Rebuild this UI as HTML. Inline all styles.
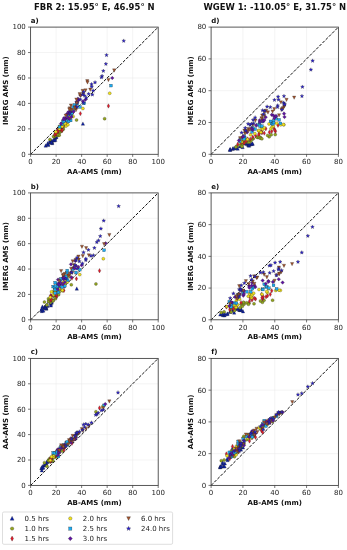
<!DOCTYPE html>
<html lang="en"><head><meta charset="utf-8"><title>AMS scatter comparison</title>
<style>html,body{margin:0;padding:0;background:#fff}svg{display:block}</style></head>
<body>
<svg width="347" height="550" viewBox="0 0 347 550" font-family="'DejaVu Sans','Liberation Sans',sans-serif">
<rect width="347" height="550" fill="#fff"/>
<g id="panel-a">
<path d="M56.12 27.10V154.30M30.60 128.86H158.20M81.64 27.10V154.30M30.60 103.42H158.20M107.16 27.10V154.30M30.60 77.98H158.20M132.68 27.10V154.30M30.60 52.54H158.20" stroke="#e9e9e9" stroke-width="0.5" fill="none"/>
<path d="M30.60 154.30L158.20 27.10" stroke="#000" stroke-width="0.95" stroke-dasharray="3 1.5" fill="none"/>
<g stroke="#222" stroke-width="0.27" stroke-linejoin="miter">
<polygon points="43.96,147.16 47.36,147.16 45.66,143.76" fill="#0b1fa8"/>
<polygon points="46.23,146.03 49.63,146.03 47.93,142.63" fill="#0b1fa8"/>
<polygon points="48.94,143.58 52.34,143.58 50.64,140.18" fill="#0b1fa8"/>
<polygon points="45.98,144.95 49.38,144.95 47.68,141.55" fill="#0b1fa8"/>
<polygon points="47.99,142.74 51.39,142.74 49.69,139.34" fill="#0b1fa8"/>
<polygon points="46.57,146.62 49.97,146.62 48.27,143.22" fill="#0b1fa8"/>
<polygon points="50.59,144.74 53.99,144.74 52.29,141.34" fill="#0b1fa8"/>
<polygon points="49.24,143.83 52.64,143.83 50.94,140.43" fill="#0b1fa8"/>
<polygon points="49.49,144.18 52.89,144.18 51.19,140.78" fill="#0b1fa8"/>
<polygon points="50.28,143.55 53.68,143.55 51.98,140.15" fill="#0b1fa8"/>
<polygon points="50.33,142.19 53.73,142.19 52.03,138.79" fill="#0b1fa8"/>
<polygon points="49.79,143.86 53.19,143.86 51.49,140.46" fill="#0b1fa8"/>
<polygon points="52.56,142.09 55.96,142.09 54.26,138.69" fill="#0b1fa8"/>
<polygon points="53.28,139.91 56.68,139.91 54.98,136.51" fill="#0b1fa8"/>
<polygon points="52.32,141.37 55.72,141.37 54.02,137.97" fill="#0b1fa8"/>
<polygon points="54.18,138.78 57.58,138.78 55.88,135.38" fill="#0b1fa8"/>
<polygon points="53.89,138.8 57.29,138.8 55.59,135.4" fill="#0b1fa8"/>
<polygon points="53.65,141.55 57.05,141.55 55.35,138.15" fill="#0b1fa8"/>
<polygon points="54.75,138.47 58.15,138.47 56.45,135.07" fill="#0b1fa8"/>
<polygon points="81.22,125.3 84.62,125.3 82.92,121.9" fill="#0b1fa8"/>
<circle cx="49.96" cy="139.49" r="1.5" fill="#94a51e"/>
<circle cx="54.26" cy="136.85" r="1.5" fill="#94a51e"/>
<circle cx="53.48" cy="136.46" r="1.5" fill="#94a51e"/>
<circle cx="56.29" cy="135.4" r="1.5" fill="#94a51e"/>
<circle cx="55.53" cy="133.18" r="1.5" fill="#94a51e"/>
<circle cx="55.34" cy="135.81" r="1.5" fill="#94a51e"/>
<circle cx="59" cy="133.29" r="1.5" fill="#94a51e"/>
<circle cx="55.26" cy="134.41" r="1.5" fill="#94a51e"/>
<circle cx="58.22" cy="135.4" r="1.5" fill="#94a51e"/>
<circle cx="59.23" cy="135.17" r="1.5" fill="#94a51e"/>
<circle cx="61.93" cy="130.25" r="1.5" fill="#94a51e"/>
<circle cx="57.52" cy="134.28" r="1.5" fill="#94a51e"/>
<circle cx="61.09" cy="131.51" r="1.5" fill="#94a51e"/>
<circle cx="60.04" cy="129.54" r="1.5" fill="#94a51e"/>
<circle cx="62.57" cy="128.28" r="1.5" fill="#94a51e"/>
<circle cx="63.43" cy="126.79" r="1.5" fill="#94a51e"/>
<circle cx="65.08" cy="125.16" r="1.5" fill="#94a51e"/>
<circle cx="63.27" cy="129.18" r="1.5" fill="#94a51e"/>
<circle cx="66.98" cy="124.19" r="1.5" fill="#94a51e"/>
<circle cx="104.61" cy="118.68" r="1.5" fill="#94a51e"/>
<circle cx="76.54" cy="119.96" r="1.5" fill="#94a51e"/>
<polygon points="54.85,132.58 56.1,134.78 54.85,136.98 53.6,134.78" fill="#e01a2a"/>
<polygon points="56.05,131.54 57.3,133.74 56.05,135.94 54.8,133.74" fill="#e01a2a"/>
<polygon points="57.22,128.28 58.47,130.48 57.22,132.68 55.97,130.48" fill="#e01a2a"/>
<polygon points="58.21,128.74 59.46,130.94 58.21,133.14 56.96,130.94" fill="#e01a2a"/>
<polygon points="57.96,127.91 59.21,130.11 57.96,132.31 56.71,130.11" fill="#e01a2a"/>
<polygon points="57.69,129.37 58.94,131.57 57.69,133.77 56.44,131.57" fill="#e01a2a"/>
<polygon points="60.35,127.15 61.6,129.35 60.35,131.55 59.1,129.35" fill="#e01a2a"/>
<polygon points="61.08,125.26 62.33,127.46 61.08,129.66 59.83,127.46" fill="#e01a2a"/>
<polygon points="61.94,128.47 63.19,130.67 61.94,132.87 60.69,130.67" fill="#e01a2a"/>
<polygon points="62.31,127.35 63.56,129.55 62.31,131.75 61.06,129.55" fill="#e01a2a"/>
<polygon points="62.84,124 64.09,126.2 62.84,128.4 61.59,126.2" fill="#e01a2a"/>
<polygon points="62.5,124.43 63.75,126.63 62.5,128.83 61.25,126.63" fill="#e01a2a"/>
<polygon points="65.29,122.15 66.54,124.35 65.29,126.55 64.04,124.35" fill="#e01a2a"/>
<polygon points="69.08,115.04 70.33,117.24 69.08,119.44 67.83,117.24" fill="#e01a2a"/>
<polygon points="68.82,118.56 70.07,120.76 68.82,122.96 67.57,120.76" fill="#e01a2a"/>
<polygon points="66.18,119.63 67.43,121.83 66.18,124.03 64.93,121.83" fill="#e01a2a"/>
<polygon points="72.86,110.3 74.11,112.5 72.86,114.7 71.61,112.5" fill="#e01a2a"/>
<polygon points="66.13,122.71 67.38,124.91 66.13,127.11 64.88,124.91" fill="#e01a2a"/>
<polygon points="69.5,115.09 70.75,117.29 69.5,119.49 68.25,117.29" fill="#e01a2a"/>
<polygon points="108.44,103.76 109.69,105.96 108.44,108.16 107.19,105.96" fill="#e01a2a"/>
<polygon points="80.36,111.4 81.61,113.6 80.36,115.8 79.11,113.6" fill="#e01a2a"/>
<circle cx="55.85" cy="131.7" r="1.5" fill="#f2e21a"/>
<circle cx="59.45" cy="128.85" r="1.5" fill="#f2e21a"/>
<circle cx="61.09" cy="126.23" r="1.5" fill="#f2e21a"/>
<circle cx="62.64" cy="124.95" r="1.5" fill="#f2e21a"/>
<circle cx="59.38" cy="126.21" r="1.5" fill="#f2e21a"/>
<circle cx="62.12" cy="126.48" r="1.5" fill="#f2e21a"/>
<circle cx="65.35" cy="123.39" r="1.5" fill="#f2e21a"/>
<circle cx="63.03" cy="123.74" r="1.5" fill="#f2e21a"/>
<circle cx="66.03" cy="125.97" r="1.5" fill="#f2e21a"/>
<circle cx="67.93" cy="124.69" r="1.5" fill="#f2e21a"/>
<circle cx="68.16" cy="117.72" r="1.5" fill="#f2e21a"/>
<circle cx="65.05" cy="123.49" r="1.5" fill="#f2e21a"/>
<circle cx="70.12" cy="118.54" r="1.5" fill="#f2e21a"/>
<circle cx="70.66" cy="112.25" r="1.5" fill="#f2e21a"/>
<circle cx="69.13" cy="116.73" r="1.5" fill="#f2e21a"/>
<circle cx="71.71" cy="113.34" r="1.5" fill="#f2e21a"/>
<circle cx="73.48" cy="110.7" r="1.5" fill="#f2e21a"/>
<circle cx="73.14" cy="116.48" r="1.5" fill="#f2e21a"/>
<circle cx="70.73" cy="113.28" r="1.5" fill="#f2e21a"/>
<circle cx="109.71" cy="93.24" r="1.5" fill="#f2e21a"/>
<circle cx="82.92" cy="108.51" r="1.5" fill="#f2e21a"/>
<rect x="58.15" y="125.42" width="2.8" height="2.8" fill="#1eaaf0"/>
<rect x="60.38" y="122.66" width="2.8" height="2.8" fill="#1eaaf0"/>
<rect x="61.97" y="119.58" width="2.8" height="2.8" fill="#1eaaf0"/>
<rect x="61.61" y="120.67" width="2.8" height="2.8" fill="#1eaaf0"/>
<rect x="63.52" y="117.17" width="2.8" height="2.8" fill="#1eaaf0"/>
<rect x="62.57" y="119.89" width="2.8" height="2.8" fill="#1eaaf0"/>
<rect x="65.33" y="119.07" width="2.8" height="2.8" fill="#1eaaf0"/>
<rect x="66.69" y="113.15" width="2.8" height="2.8" fill="#1eaaf0"/>
<rect x="69.25" y="119.08" width="2.8" height="2.8" fill="#1eaaf0"/>
<rect x="67.22" y="120.04" width="2.8" height="2.8" fill="#1eaaf0"/>
<rect x="67.81" y="111.79" width="2.8" height="2.8" fill="#1eaaf0"/>
<rect x="69.77" y="113.2" width="2.8" height="2.8" fill="#1eaaf0"/>
<rect x="70.42" y="111.52" width="2.8" height="2.8" fill="#1eaaf0"/>
<rect x="69.94" y="109.38" width="2.8" height="2.8" fill="#1eaaf0"/>
<rect x="71.8" y="109.49" width="2.8" height="2.8" fill="#1eaaf0"/>
<rect x="71.85" y="105.72" width="2.8" height="2.8" fill="#1eaaf0"/>
<rect x="72.99" y="103.54" width="2.8" height="2.8" fill="#1eaaf0"/>
<rect x="78.52" y="105.56" width="2.8" height="2.8" fill="#1eaaf0"/>
<rect x="75.78" y="102.21" width="2.8" height="2.8" fill="#1eaaf0"/>
<rect x="109.59" y="84.21" width="2.8" height="2.8" fill="#1eaaf0"/>
<rect x="82.79" y="102.02" width="2.8" height="2.8" fill="#1eaaf0"/>
<polygon points="61.01,121.85 62.81,123.65 61.01,125.45 59.21,123.65" fill="#5e14a0"/>
<polygon points="65.36,117.35 67.16,119.15 65.36,120.95 63.56,119.15" fill="#5e14a0"/>
<polygon points="64.09,116.19 65.89,117.99 64.09,119.79 62.29,117.99" fill="#5e14a0"/>
<polygon points="63.62,117.57 65.42,119.37 63.62,121.17 61.82,119.37" fill="#5e14a0"/>
<polygon points="66.88,112.23 68.68,114.03 66.88,115.83 65.08,114.03" fill="#5e14a0"/>
<polygon points="68.77,111.7 70.57,113.5 68.77,115.3 66.97,113.5" fill="#5e14a0"/>
<polygon points="67.46,115.32 69.26,117.12 67.46,118.92 65.66,117.12" fill="#5e14a0"/>
<polygon points="68.42,110.22 70.22,112.02 68.42,113.82 66.62,112.02" fill="#5e14a0"/>
<polygon points="71.53,115.05 73.33,116.85 71.53,118.65 69.73,116.85" fill="#5e14a0"/>
<polygon points="69.31,116.83 71.11,118.63 69.31,120.43 67.51,118.63" fill="#5e14a0"/>
<polygon points="70.3,110.26 72.1,112.06 70.3,113.86 68.5,112.06" fill="#5e14a0"/>
<polygon points="73.61,109.8 75.41,111.6 73.61,113.4 71.81,111.6" fill="#5e14a0"/>
<polygon points="75.9,104.93 77.7,106.73 75.9,108.53 74.1,106.73" fill="#5e14a0"/>
<polygon points="76.63,100.04 78.43,101.84 76.63,103.64 74.83,101.84" fill="#5e14a0"/>
<polygon points="77.11,101.01 78.91,102.81 77.11,104.61 75.31,102.81" fill="#5e14a0"/>
<polygon points="78.56,98.32 80.36,100.12 78.56,101.92 76.76,100.12" fill="#5e14a0"/>
<polygon points="80.57,93.55 82.37,95.35 80.57,97.15 78.77,95.35" fill="#5e14a0"/>
<polygon points="83.02,99.55 84.82,101.35 83.02,103.15 81.22,101.35" fill="#5e14a0"/>
<polygon points="78,96.9 79.8,98.7 78,100.5 76.2,98.7" fill="#5e14a0"/>
<polygon points="112.26,76.18 114.06,77.98 112.26,79.78 110.46,77.98" fill="#5e14a0"/>
<polygon points="85.47,97.8 87.27,99.6 85.47,101.4 83.67,99.6" fill="#5e14a0"/>
<polygon points="64.02,114 67.32,114 65.67,117.3" fill="#a0522d"/>
<polygon points="70.21,108.29 73.51,108.29 71.86,111.59" fill="#a0522d"/>
<polygon points="68.18,106.75 71.48,106.75 69.83,110.05" fill="#a0522d"/>
<polygon points="68.43,108.25 71.73,108.25 70.08,111.55" fill="#a0522d"/>
<polygon points="69.27,103.9 72.57,103.9 70.92,107.2" fill="#a0522d"/>
<polygon points="67.62,107.73 70.92,107.73 69.27,111.03" fill="#a0522d"/>
<polygon points="73.44,105.69 76.74,105.69 75.09,108.99" fill="#a0522d"/>
<polygon points="74.73,97.93 78.03,97.93 76.38,101.23" fill="#a0522d"/>
<polygon points="74.47,108.35 77.77,108.35 76.12,111.65" fill="#a0522d"/>
<polygon points="73.41,106.84 76.71,106.84 75.06,110.14" fill="#a0522d"/>
<polygon points="78.77,94.05 82.07,94.05 80.42,97.35" fill="#a0522d"/>
<polygon points="75.1,101.56 78.4,101.56 76.75,104.86" fill="#a0522d"/>
<polygon points="81.47,92.36 84.77,92.36 83.12,95.66" fill="#a0522d"/>
<polygon points="78,92.62 81.3,92.62 79.65,95.92" fill="#a0522d"/>
<polygon points="83.89,88.8 87.19,88.8 85.54,92.1" fill="#a0522d"/>
<polygon points="81.05,89.33 84.35,89.33 82.7,92.63" fill="#a0522d"/>
<polygon points="85.6,79.5 88.9,79.5 87.25,82.8" fill="#a0522d"/>
<polygon points="88.61,88.08 91.91,88.08 90.26,91.38" fill="#a0522d"/>
<polygon points="85.86,80.85 89.16,80.85 87.51,84.15" fill="#a0522d"/>
<polygon points="112.53,68.86 115.83,68.86 114.18,72.16" fill="#a0522d"/>
<polygon points="106.79,78.4 110.09,78.4 108.44,81.7" fill="#a0522d"/>
<polygon points="69.99,111.15 70.49,112.42 71.84,112.5 70.8,113.37 71.14,114.68 69.99,113.95 68.84,114.68 69.18,113.37 68.14,112.5 69.49,112.42" fill="#2a1fd0"/>
<polygon points="76.99,104.96 77.49,106.22 78.84,106.31 77.79,107.17 78.13,108.49 76.99,107.76 75.84,108.49 76.18,107.17 75.13,106.31 76.49,106.22" fill="#2a1fd0"/>
<polygon points="82.82,92.55 83.32,93.81 84.68,93.9 83.63,94.76 83.97,96.08 82.82,95.35 81.68,96.08 82.02,94.76 80.97,93.9 82.32,93.81" fill="#2a1fd0"/>
<polygon points="80.26,97.56 80.76,98.82 82.11,98.91 81.06,99.77 81.4,101.09 80.26,100.36 79.11,101.09 79.45,99.77 78.4,98.91 79.76,98.82" fill="#2a1fd0"/>
<polygon points="83.69,89.99 84.19,91.25 85.54,91.34 84.49,92.2 84.83,93.52 83.69,92.79 82.54,93.52 82.88,92.2 81.83,91.34 83.19,91.25" fill="#2a1fd0"/>
<polygon points="84.66,93.74 85.16,95 86.52,95.08 85.47,95.95 85.81,97.26 84.66,96.54 83.52,97.26 83.85,95.95 82.81,95.08 84.16,95" fill="#2a1fd0"/>
<polygon points="86.36,95.98 86.86,97.24 88.21,97.32 87.16,98.19 87.5,99.5 86.36,98.78 85.21,99.5 85.55,98.19 84.5,97.32 85.86,97.24" fill="#2a1fd0"/>
<polygon points="91.55,82.33 92.05,83.59 93.4,83.67 92.36,84.54 92.7,85.85 91.55,85.13 90.4,85.85 90.74,84.54 89.69,83.67 91.05,83.59" fill="#2a1fd0"/>
<polygon points="83.51,101.06 84.01,102.32 85.36,102.41 84.32,103.27 84.65,104.59 83.51,103.86 82.36,104.59 82.7,103.27 81.65,102.41 83.01,102.32" fill="#2a1fd0"/>
<polygon points="92.34,92.64 92.83,93.91 94.19,93.99 93.14,94.86 93.48,96.17 92.34,95.44 91.19,96.17 91.53,94.86 90.48,93.99 91.84,93.91" fill="#2a1fd0"/>
<polygon points="91.72,84.81 92.22,86.07 93.58,86.15 92.53,87.02 92.87,88.33 91.72,87.61 90.58,88.33 90.92,87.02 89.87,86.15 91.22,86.07" fill="#2a1fd0"/>
<polygon points="123.75,38.89 124.25,40.15 125.6,40.24 124.56,41.1 124.89,42.42 123.75,41.69 122.6,42.42 122.94,41.1 121.89,40.24 123.25,40.15" fill="#2a1fd0"/>
<polygon points="106.52,53.13 107.02,54.4 108.38,54.48 107.33,55.35 107.67,56.66 106.52,55.93 105.38,56.66 105.71,55.35 104.67,54.48 106.02,54.4" fill="#2a1fd0"/>
<polygon points="105.88,62.04 106.38,63.3 107.74,63.39 106.69,64.25 107.03,65.57 105.88,64.84 104.74,65.57 105.08,64.25 104.03,63.39 105.38,63.3" fill="#2a1fd0"/>
<polygon points="103.33,69.03 103.83,70.3 105.19,70.38 104.14,71.25 104.48,72.56 103.33,71.83 102.19,72.56 102.52,71.25 101.48,70.38 102.83,70.3" fill="#2a1fd0"/>
<polygon points="102.06,74.12 102.56,75.38 103.91,75.47 102.86,76.33 103.2,77.65 102.06,76.92 100.91,77.65 101.25,76.33 100.2,75.47 101.56,75.38" fill="#2a1fd0"/>
<polygon points="101.42,75.39 101.92,76.66 103.27,76.74 102.23,77.61 102.56,78.92 101.42,78.19 100.27,78.92 100.61,77.61 99.56,76.74 100.92,76.66" fill="#2a1fd0"/>
<polygon points="95.04,80.48 95.54,81.74 96.89,81.83 95.85,82.69 96.18,84.01 95.04,83.28 93.89,84.01 94.23,82.69 93.18,81.83 94.54,81.74" fill="#2a1fd0"/>
<polygon points="93.12,88.75 93.62,90.01 94.98,90.1 93.93,90.96 94.27,92.28 93.12,91.55 91.98,92.28 92.32,90.96 91.27,90.1 92.62,90.01" fill="#2a1fd0"/>
<polygon points="88.66,91.93 89.16,93.19 90.51,93.28 89.47,94.14 89.8,95.46 88.66,94.73 87.51,95.46 87.85,94.14 86.8,93.28 88.16,93.19" fill="#2a1fd0"/>
</g>
<rect x="30.60" y="27.10" width="127.60" height="127.20" fill="none" stroke="#3c3c3c" stroke-width="0.85"/>
<path d="M30.60 154.30v2.6M30.60 154.30h-2.6M56.12 154.30v2.6M30.60 128.86h-2.6M81.64 154.30v2.6M30.60 103.42h-2.6M107.16 154.30v2.6M30.60 77.98h-2.6M132.68 154.30v2.6M30.60 52.54h-2.6M158.20 154.30v2.6M30.60 27.10h-2.6" stroke="#3c3c3c" stroke-width="0.7" fill="none"/>
<g font-size="7" fill="#1c1c1c">
<text x="30.60" y="164.25" text-anchor="middle">0</text>
<text x="25.80" y="156.65" text-anchor="end">0</text>
<text x="56.12" y="164.25" text-anchor="middle">20</text>
<text x="25.80" y="131.21" text-anchor="end">20</text>
<text x="81.64" y="164.25" text-anchor="middle">40</text>
<text x="25.80" y="105.77" text-anchor="end">40</text>
<text x="107.16" y="164.25" text-anchor="middle">60</text>
<text x="25.80" y="80.33" text-anchor="end">60</text>
<text x="132.68" y="164.25" text-anchor="middle">80</text>
<text x="25.80" y="54.89" text-anchor="end">80</text>
<text x="158.20" y="164.25" text-anchor="middle">100</text>
<text x="25.80" y="29.45" text-anchor="end">100</text>
</g>
<text x="94.40" y="173.80" font-size="7" font-weight="bold" text-anchor="middle" fill="#111">AA-AMS (mm)</text>
<text transform="translate(8.20 90.70) rotate(-90)" font-size="7" font-weight="bold" text-anchor="middle" fill="#111">IMERG AMS (mm)</text>
<text x="30.70" y="22.85" font-size="7" font-weight="bold" fill="#111">a)</text>
</g>
<g id="panel-b">
<path d="M56.12 192.90V319.80M30.60 294.42H158.20M81.64 192.90V319.80M30.60 269.04H158.20M107.16 192.90V319.80M30.60 243.66H158.20M132.68 192.90V319.80M30.60 218.28H158.20" stroke="#e9e9e9" stroke-width="0.5" fill="none"/>
<path d="M30.60 319.80L158.20 192.90" stroke="#000" stroke-width="0.95" stroke-dasharray="3 1.5" fill="none"/>
<g stroke="#222" stroke-width="0.27" stroke-linejoin="miter">
<polygon points="40.11,312.68 43.51,312.68 41.81,309.28" fill="#0b1fa8"/>
<polygon points="39.67,311.55 43.07,311.55 41.37,308.15" fill="#0b1fa8"/>
<polygon points="42.55,309.11 45.95,309.11 44.25,305.71" fill="#0b1fa8"/>
<polygon points="40.16,310.48 43.56,310.48 41.86,307.08" fill="#0b1fa8"/>
<polygon points="40.66,308.27 44.06,308.27 42.36,304.87" fill="#0b1fa8"/>
<polygon points="41.66,312.14 45.06,312.14 43.36,308.74" fill="#0b1fa8"/>
<polygon points="44.62,310.27 48.02,310.27 46.32,306.87" fill="#0b1fa8"/>
<polygon points="44.56,309.36 47.96,309.36 46.26,305.96" fill="#0b1fa8"/>
<polygon points="44.3,309.71 47.7,309.71 46,306.31" fill="#0b1fa8"/>
<polygon points="43.04,309.08 46.44,309.08 44.74,305.68" fill="#0b1fa8"/>
<polygon points="43.95,307.72 47.35,307.72 45.65,304.32" fill="#0b1fa8"/>
<polygon points="43.69,309.39 47.09,309.39 45.39,305.99" fill="#0b1fa8"/>
<polygon points="45.85,307.62 49.25,307.62 47.55,304.22" fill="#0b1fa8"/>
<polygon points="49.19,305.45 52.59,305.45 50.89,302.05" fill="#0b1fa8"/>
<polygon points="45.05,306.9 48.45,306.9 46.75,303.5" fill="#0b1fa8"/>
<polygon points="48.43,304.32 51.83,304.32 50.13,300.92" fill="#0b1fa8"/>
<polygon points="49.72,304.34 53.12,304.34 51.42,300.94" fill="#0b1fa8"/>
<polygon points="49.2,307.08 52.6,307.08 50.9,303.68" fill="#0b1fa8"/>
<polygon points="50,304.01 53.4,304.01 51.7,300.61" fill="#0b1fa8"/>
<polygon points="75.09,290.24 78.49,290.24 76.79,286.84" fill="#0b1fa8"/>
<circle cx="46.9" cy="305.02" r="1.5" fill="#94a51e"/>
<circle cx="50.34" cy="302.39" r="1.5" fill="#94a51e"/>
<circle cx="44.45" cy="302.01" r="1.5" fill="#94a51e"/>
<circle cx="48.81" cy="300.94" r="1.5" fill="#94a51e"/>
<circle cx="48.45" cy="298.73" r="1.5" fill="#94a51e"/>
<circle cx="48.8" cy="301.36" r="1.5" fill="#94a51e"/>
<circle cx="55.49" cy="298.84" r="1.5" fill="#94a51e"/>
<circle cx="52.93" cy="299.96" r="1.5" fill="#94a51e"/>
<circle cx="53" cy="300.94" r="1.5" fill="#94a51e"/>
<circle cx="52.94" cy="300.71" r="1.5" fill="#94a51e"/>
<circle cx="53.65" cy="295.8" r="1.5" fill="#94a51e"/>
<circle cx="49.76" cy="299.83" r="1.5" fill="#94a51e"/>
<circle cx="56.07" cy="297.06" r="1.5" fill="#94a51e"/>
<circle cx="54.82" cy="295.1" r="1.5" fill="#94a51e"/>
<circle cx="56.34" cy="293.85" r="1.5" fill="#94a51e"/>
<circle cx="59.11" cy="292.35" r="1.5" fill="#94a51e"/>
<circle cx="62.4" cy="290.73" r="1.5" fill="#94a51e"/>
<circle cx="58.63" cy="294.74" r="1.5" fill="#94a51e"/>
<circle cx="59.21" cy="289.76" r="1.5" fill="#94a51e"/>
<circle cx="95.93" cy="283.89" r="1.5" fill="#94a51e"/>
<circle cx="71.3" cy="284.78" r="1.5" fill="#94a51e"/>
<polygon points="50.6,298.13 51.85,300.33 50.6,302.53 49.35,300.33" fill="#e01a2a"/>
<polygon points="51.29,297.09 52.54,299.29 51.29,301.49 50.04,299.29" fill="#e01a2a"/>
<polygon points="50.91,293.84 52.16,296.04 50.91,298.24 49.66,296.04" fill="#e01a2a"/>
<polygon points="51.39,294.3 52.64,296.5 51.39,298.7 50.14,296.5" fill="#e01a2a"/>
<polygon points="50.54,293.47 51.79,295.67 50.54,297.87 49.29,295.67" fill="#e01a2a"/>
<polygon points="50.99,294.92 52.24,297.12 50.99,299.32 49.74,297.12" fill="#e01a2a"/>
<polygon points="55.27,292.71 56.52,294.91 55.27,297.11 54.02,294.91" fill="#e01a2a"/>
<polygon points="55.23,290.83 56.48,293.03 55.23,295.23 53.98,293.03" fill="#e01a2a"/>
<polygon points="56.77,294.03 58.02,296.23 56.77,298.43 55.52,296.23" fill="#e01a2a"/>
<polygon points="56.11,292.91 57.36,295.11 56.11,297.31 54.86,295.11" fill="#e01a2a"/>
<polygon points="54.71,289.57 55.96,291.77 54.71,293.97 53.46,291.77" fill="#e01a2a"/>
<polygon points="56.52,290 57.77,292.2 56.52,294.4 55.27,292.2" fill="#e01a2a"/>
<polygon points="56.62,287.72 57.87,289.92 56.62,292.12 55.37,289.92" fill="#e01a2a"/>
<polygon points="65.04,280.63 66.29,282.83 65.04,285.03 63.79,282.83" fill="#e01a2a"/>
<polygon points="64.71,284.14 65.96,286.34 64.71,288.54 63.46,286.34" fill="#e01a2a"/>
<polygon points="59.57,285.2 60.82,287.4 59.57,289.6 58.32,287.4" fill="#e01a2a"/>
<polygon points="71.91,275.9 73.16,278.1 71.91,280.3 70.66,278.1" fill="#e01a2a"/>
<polygon points="63.88,288.28 65.13,290.48 63.88,292.68 62.63,290.48" fill="#e01a2a"/>
<polygon points="63.92,280.68 65.17,282.88 63.92,285.08 62.67,282.88" fill="#e01a2a"/>
<polygon points="99.5,268.49 100.75,270.69 99.5,272.89 98.25,270.69" fill="#e01a2a"/>
<polygon points="76.41,276.61 77.66,278.81 76.41,281.01 75.16,278.81" fill="#e01a2a"/>
<circle cx="50.34" cy="297.25" r="1.5" fill="#f2e21a"/>
<circle cx="53.6" cy="294.41" r="1.5" fill="#f2e21a"/>
<circle cx="53.73" cy="291.8" r="1.5" fill="#f2e21a"/>
<circle cx="54.25" cy="290.52" r="1.5" fill="#f2e21a"/>
<circle cx="51.49" cy="291.77" r="1.5" fill="#f2e21a"/>
<circle cx="55.28" cy="292.05" r="1.5" fill="#f2e21a"/>
<circle cx="59.28" cy="288.96" r="1.5" fill="#f2e21a"/>
<circle cx="56.53" cy="289.31" r="1.5" fill="#f2e21a"/>
<circle cx="58.31" cy="291.53" r="1.5" fill="#f2e21a"/>
<circle cx="62.44" cy="290.26" r="1.5" fill="#f2e21a"/>
<circle cx="62.23" cy="283.31" r="1.5" fill="#f2e21a"/>
<circle cx="59.13" cy="289.06" r="1.5" fill="#f2e21a"/>
<circle cx="65.09" cy="284.12" r="1.5" fill="#f2e21a"/>
<circle cx="64.47" cy="277.85" r="1.5" fill="#f2e21a"/>
<circle cx="63.38" cy="282.32" r="1.5" fill="#f2e21a"/>
<circle cx="66.19" cy="278.94" r="1.5" fill="#f2e21a"/>
<circle cx="69.32" cy="276.3" r="1.5" fill="#f2e21a"/>
<circle cx="67.5" cy="282.07" r="1.5" fill="#f2e21a"/>
<circle cx="65.08" cy="278.88" r="1.5" fill="#f2e21a"/>
<circle cx="103.33" cy="258.76" r="1.5" fill="#f2e21a"/>
<circle cx="79.73" cy="274.62" r="1.5" fill="#f2e21a"/>
<rect x="57.05" y="290.98" width="2.8" height="2.8" fill="#1eaaf0"/>
<rect x="55.69" y="288.23" width="2.8" height="2.8" fill="#1eaaf0"/>
<rect x="51.86" y="285.15" width="2.8" height="2.8" fill="#1eaaf0"/>
<rect x="53.04" y="286.25" width="2.8" height="2.8" fill="#1eaaf0"/>
<rect x="56.14" y="282.76" width="2.8" height="2.8" fill="#1eaaf0"/>
<rect x="55.9" y="285.47" width="2.8" height="2.8" fill="#1eaaf0"/>
<rect x="58.4" y="284.65" width="2.8" height="2.8" fill="#1eaaf0"/>
<rect x="58.96" y="278.75" width="2.8" height="2.8" fill="#1eaaf0"/>
<rect x="63.31" y="284.66" width="2.8" height="2.8" fill="#1eaaf0"/>
<rect x="60.93" y="285.62" width="2.8" height="2.8" fill="#1eaaf0"/>
<rect x="59.68" y="277.39" width="2.8" height="2.8" fill="#1eaaf0"/>
<rect x="66.24" y="278.79" width="2.8" height="2.8" fill="#1eaaf0"/>
<rect x="65.14" y="277.12" width="2.8" height="2.8" fill="#1eaaf0"/>
<rect x="62.74" y="274.99" width="2.8" height="2.8" fill="#1eaaf0"/>
<rect x="64.89" y="275.09" width="2.8" height="2.8" fill="#1eaaf0"/>
<rect x="65.33" y="271.33" width="2.8" height="2.8" fill="#1eaaf0"/>
<rect x="65.87" y="269.16" width="2.8" height="2.8" fill="#1eaaf0"/>
<rect x="74.59" y="271.17" width="2.8" height="2.8" fill="#1eaaf0"/>
<rect x="71.33" y="267.83" width="2.8" height="2.8" fill="#1eaaf0"/>
<rect x="102.7" y="248.86" width="2.8" height="2.8" fill="#1eaaf0"/>
<rect x="78.33" y="268.27" width="2.8" height="2.8" fill="#1eaaf0"/>
<rect x="53.83" y="291.75" width="2.8" height="2.8" fill="#1eaaf0"/>
<rect x="53.7" y="288.2" width="2.8" height="2.8" fill="#1eaaf0"/>
<rect x="54.08" y="284.77" width="2.8" height="2.8" fill="#1eaaf0"/>
<rect x="53.83" y="281.22" width="2.8" height="2.8" fill="#1eaaf0"/>
<polygon points="57.87,287.42 59.67,289.22 57.87,291.02 56.07,289.22" fill="#5e14a0"/>
<polygon points="59.02,282.93 60.82,284.73 59.02,286.53 57.22,284.73" fill="#5e14a0"/>
<polygon points="58.6,281.78 60.4,283.58 58.6,285.38 56.8,283.58" fill="#5e14a0"/>
<polygon points="59.29,283.15 61.09,284.95 59.29,286.75 57.49,284.95" fill="#5e14a0"/>
<polygon points="58.02,277.83 59.82,279.63 58.02,281.43 56.22,279.63" fill="#5e14a0"/>
<polygon points="63.41,277.29 65.21,279.09 63.41,280.89 61.61,279.09" fill="#5e14a0"/>
<polygon points="60.45,280.91 62.25,282.71 60.45,284.51 58.65,282.71" fill="#5e14a0"/>
<polygon points="63.01,275.82 64.81,277.62 63.01,279.42 61.21,277.62" fill="#5e14a0"/>
<polygon points="64.58,280.64 66.38,282.44 64.58,284.24 62.78,282.44" fill="#5e14a0"/>
<polygon points="62.57,282.42 64.37,284.22 62.57,286.02 60.77,284.22" fill="#5e14a0"/>
<polygon points="64.21,275.86 66.01,277.66 64.21,279.46 62.41,277.66" fill="#5e14a0"/>
<polygon points="71.19,275.4 72.99,277.2 71.19,279 69.39,277.2" fill="#5e14a0"/>
<polygon points="70.95,270.54 72.75,272.34 70.95,274.14 69.15,272.34" fill="#5e14a0"/>
<polygon points="73.46,265.67 75.26,267.47 73.46,269.27 71.66,267.47" fill="#5e14a0"/>
<polygon points="74.71,266.63 76.51,268.43 74.71,270.23 72.91,268.43" fill="#5e14a0"/>
<polygon points="75.97,263.94 77.77,265.74 75.97,267.54 74.17,265.74" fill="#5e14a0"/>
<polygon points="75.37,259.19 77.17,260.99 75.37,262.79 73.57,260.99" fill="#5e14a0"/>
<polygon points="78.29,265.17 80.09,266.97 78.29,268.77 76.49,266.97" fill="#5e14a0"/>
<polygon points="71.01,262.53 72.81,264.33 71.01,266.13 69.21,264.33" fill="#5e14a0"/>
<polygon points="105.63,241.48 107.43,243.28 105.63,245.08 103.83,243.28" fill="#5e14a0"/>
<polygon points="81.64,263.43 83.44,265.23 81.64,267.03 79.84,265.23" fill="#5e14a0"/>
<polygon points="57.66,279.59 60.96,279.59 59.31,282.89" fill="#a0522d"/>
<polygon points="66.4,273.89 69.7,273.89 68.05,277.19" fill="#a0522d"/>
<polygon points="63.11,272.35 66.41,272.35 64.76,275.65" fill="#a0522d"/>
<polygon points="61.16,273.86 64.46,273.86 62.81,277.16" fill="#a0522d"/>
<polygon points="59.48,269.52 62.78,269.52 61.13,272.82" fill="#a0522d"/>
<polygon points="61.86,273.34 65.16,273.34 63.51,276.64" fill="#a0522d"/>
<polygon points="70.57,271.3 73.87,271.3 72.22,274.6" fill="#a0522d"/>
<polygon points="72.21,263.56 75.51,263.56 73.86,266.86" fill="#a0522d"/>
<polygon points="67.4,273.95 70.7,273.95 69.05,277.25" fill="#a0522d"/>
<polygon points="67.92,272.45 71.22,272.45 69.57,275.75" fill="#a0522d"/>
<polygon points="71.04,259.68 74.34,259.68 72.69,262.98" fill="#a0522d"/>
<polygon points="69.57,267.18 72.87,267.18 71.22,270.48" fill="#a0522d"/>
<polygon points="77.17,258 80.47,258 78.82,261.3" fill="#a0522d"/>
<polygon points="73.98,258.26 77.28,258.26 75.63,261.56" fill="#a0522d"/>
<polygon points="81.15,254.45 84.45,254.45 82.8,257.75" fill="#a0522d"/>
<polygon points="76.82,254.98 80.12,254.98 78.47,258.28" fill="#a0522d"/>
<polygon points="80.32,245.17 83.62,245.17 81.97,248.47" fill="#a0522d"/>
<polygon points="87.21,253.73 90.51,253.73 88.86,257.03" fill="#a0522d"/>
<polygon points="84.47,246.52 87.77,246.52 86.12,249.82" fill="#a0522d"/>
<polygon points="107.68,233.42 110.98,233.42 109.33,236.72" fill="#a0522d"/>
<polygon points="102.45,242.56 105.75,242.56 104.1,245.86" fill="#a0522d"/>
<polygon points="65.83,276.75 66.33,278.01 67.69,278.1 66.64,278.96 66.98,280.28 65.83,279.55 64.69,280.28 65.02,278.96 63.98,278.1 65.33,278.01" fill="#2a1fd0"/>
<polygon points="71.76,270.57 72.26,271.83 73.62,271.92 72.57,272.78 72.91,274.1 71.76,273.37 70.62,274.1 70.96,272.78 69.91,271.92 71.26,271.83" fill="#2a1fd0"/>
<polygon points="76.12,258.19 76.62,259.46 77.97,259.54 76.93,260.41 77.27,261.72 76.12,260.99 74.97,261.72 75.31,260.41 74.27,259.54 75.62,259.46" fill="#2a1fd0"/>
<polygon points="74.99,263.19 75.49,264.45 76.84,264.54 75.8,265.4 76.13,266.72 74.99,265.99 73.84,266.72 74.18,265.4 73.13,264.54 74.49,264.45" fill="#2a1fd0"/>
<polygon points="76.98,255.64 77.48,256.9 78.83,256.99 77.78,257.85 78.12,259.17 76.98,258.44 75.83,259.17 76.17,257.85 75.12,256.99 76.48,256.9" fill="#2a1fd0"/>
<polygon points="79.37,259.38 79.87,260.64 81.23,260.72 80.18,261.59 80.52,262.9 79.37,262.18 78.22,262.9 78.56,261.59 77.52,260.72 78.87,260.64" fill="#2a1fd0"/>
<polygon points="82.41,261.61 82.91,262.87 84.27,262.96 83.22,263.82 83.56,265.14 82.41,264.41 81.27,265.14 81.6,263.82 80.56,262.96 81.91,262.87" fill="#2a1fd0"/>
<polygon points="88.4,247.99 88.9,249.25 90.25,249.34 89.2,250.2 89.54,251.52 88.4,250.79 87.25,251.52 87.59,250.2 86.54,249.34 87.9,249.25" fill="#2a1fd0"/>
<polygon points="77,266.68 77.5,267.94 78.86,268.03 77.81,268.89 78.15,270.21 77,269.48 75.86,270.21 76.2,268.89 75.15,268.03 76.5,267.94" fill="#2a1fd0"/>
<polygon points="85.85,258.28 86.35,259.55 87.7,259.63 86.65,260.5 86.99,261.81 85.85,261.08 84.7,261.81 85.04,260.5 83.99,259.63 85.35,259.55" fill="#2a1fd0"/>
<polygon points="83.52,250.47 84.02,251.73 85.38,251.81 84.33,252.68 84.67,253.99 83.52,253.27 82.38,253.99 82.72,252.68 81.67,251.81 83.02,251.73" fill="#2a1fd0"/>
<polygon points="118.64,204.27 119.14,205.54 120.5,205.62 119.45,206.49 119.79,207.8 118.64,207.07 117.5,207.8 117.84,206.49 116.79,205.62 118.14,205.54" fill="#2a1fd0"/>
<polygon points="103.71,218.74 104.21,220 105.57,220.09 104.52,220.95 104.86,222.27 103.71,221.54 102.57,222.27 102.91,220.95 101.86,220.09 103.22,220" fill="#2a1fd0"/>
<polygon points="100.91,226.74 101.41,228 102.76,228.08 101.72,228.95 102.05,230.26 100.91,229.54 99.76,230.26 100.1,228.95 99.05,228.08 100.41,228" fill="#2a1fd0"/>
<polygon points="100.27,234.22 100.77,235.49 102.12,235.57 101.08,236.44 101.42,237.75 100.27,237.02 99.12,237.75 99.46,236.44 98.42,235.57 99.77,235.49" fill="#2a1fd0"/>
<polygon points="98.48,238.54 98.98,239.8 100.34,239.88 99.29,240.75 99.63,242.07 98.48,241.34 97.34,242.07 97.67,240.75 96.63,239.88 97.98,239.8" fill="#2a1fd0"/>
<polygon points="96.82,240.31 97.32,241.58 98.68,241.66 97.63,242.53 97.97,243.84 96.82,243.11 95.68,243.84 96.02,242.53 94.97,241.66 96.32,241.58" fill="#2a1fd0"/>
<polygon points="94.4,246.02 94.9,247.29 96.25,247.37 95.21,248.24 95.55,249.55 94.4,248.82 93.25,249.55 93.59,248.24 92.55,247.37 93.9,247.29" fill="#2a1fd0"/>
<polygon points="93.38,253.38 93.88,254.65 95.23,254.73 94.19,255.6 94.53,256.91 93.38,256.18 92.23,256.91 92.57,255.6 91.52,254.73 92.88,254.65" fill="#2a1fd0"/>
<polygon points="90.95,253.89 91.45,255.15 92.81,255.24 91.76,256.11 92.1,257.42 90.95,256.69 89.81,257.42 90.15,256.11 89.1,255.24 90.46,255.15" fill="#2a1fd0"/>
<polygon points="85.85,256.81 86.35,258.07 87.71,258.16 86.66,259.02 87,260.34 85.85,259.61 84.7,260.34 85.04,259.02 84,258.16 85.35,258.07" fill="#2a1fd0"/>
</g>
<rect x="30.60" y="192.90" width="127.60" height="126.90" fill="none" stroke="#3c3c3c" stroke-width="0.85"/>
<path d="M30.60 319.80v2.6M30.60 319.80h-2.6M56.12 319.80v2.6M30.60 294.42h-2.6M81.64 319.80v2.6M30.60 269.04h-2.6M107.16 319.80v2.6M30.60 243.66h-2.6M132.68 319.80v2.6M30.60 218.28h-2.6M158.20 319.80v2.6M30.60 192.90h-2.6" stroke="#3c3c3c" stroke-width="0.7" fill="none"/>
<g font-size="7" fill="#1c1c1c">
<text x="30.60" y="329.75" text-anchor="middle">0</text>
<text x="25.80" y="322.15" text-anchor="end">0</text>
<text x="56.12" y="329.75" text-anchor="middle">20</text>
<text x="25.80" y="296.77" text-anchor="end">20</text>
<text x="81.64" y="329.75" text-anchor="middle">40</text>
<text x="25.80" y="271.39" text-anchor="end">40</text>
<text x="107.16" y="329.75" text-anchor="middle">60</text>
<text x="25.80" y="246.01" text-anchor="end">60</text>
<text x="132.68" y="329.75" text-anchor="middle">80</text>
<text x="25.80" y="220.63" text-anchor="end">80</text>
<text x="158.20" y="329.75" text-anchor="middle">100</text>
<text x="25.80" y="195.25" text-anchor="end">100</text>
</g>
<text x="94.40" y="339.30" font-size="7" font-weight="bold" text-anchor="middle" fill="#111">AB-AMS (mm)</text>
<text transform="translate(8.20 256.35) rotate(-90)" font-size="7" font-weight="bold" text-anchor="middle" fill="#111">IMERG AMS (mm)</text>
<text x="30.70" y="188.65" font-size="7" font-weight="bold" fill="#111">b)</text>
</g>
<g id="panel-c">
<path d="M56.12 358.40V485.40M30.60 460.00H158.20M81.64 358.40V485.40M30.60 434.60H158.20M107.16 358.40V485.40M30.60 409.20H158.20M132.68 358.40V485.40M30.60 383.80H158.20" stroke="#e9e9e9" stroke-width="0.5" fill="none"/>
<path d="M30.60 485.40L158.20 358.40" stroke="#000" stroke-width="0.95" stroke-dasharray="3 1.5" fill="none"/>
<g stroke="#222" stroke-width="0.27" stroke-linejoin="miter">
<polygon points="40.11,471.95 43.51,471.95 41.81,468.55" fill="#0b1fa8"/>
<polygon points="39.67,469.68 43.07,469.68 41.37,466.28" fill="#0b1fa8"/>
<polygon points="42.55,466.98 45.95,466.98 44.25,463.58" fill="#0b1fa8"/>
<polygon points="40.16,469.93 43.56,469.93 41.86,466.53" fill="#0b1fa8"/>
<polygon points="40.66,467.93 44.06,467.93 42.36,464.53" fill="#0b1fa8"/>
<polygon points="41.66,469.35 45.06,469.35 43.36,465.95" fill="#0b1fa8"/>
<polygon points="44.62,465.34 48.02,465.34 46.32,461.94" fill="#0b1fa8"/>
<polygon points="44.56,466.69 47.96,466.69 46.26,463.29" fill="#0b1fa8"/>
<polygon points="44.3,466.43 47.7,466.43 46,463.03" fill="#0b1fa8"/>
<polygon points="43.04,465.65 46.44,465.65 44.74,462.25" fill="#0b1fa8"/>
<polygon points="43.95,465.6 47.35,465.6 45.65,462.2" fill="#0b1fa8"/>
<polygon points="43.69,466.14 47.09,466.14 45.39,462.74" fill="#0b1fa8"/>
<polygon points="45.85,463.38 49.25,463.38 47.55,459.98" fill="#0b1fa8"/>
<polygon points="49.19,462.67 52.59,462.67 50.89,459.27" fill="#0b1fa8"/>
<polygon points="45.05,463.62 48.45,463.62 46.75,460.22" fill="#0b1fa8"/>
<polygon points="48.43,461.77 51.83,461.77 50.13,458.37" fill="#0b1fa8"/>
<polygon points="49.72,462.06 53.12,462.06 51.42,458.66" fill="#0b1fa8"/>
<polygon points="49.2,462.3 52.6,462.3 50.9,458.9" fill="#0b1fa8"/>
<polygon points="50,461.21 53.4,461.21 51.7,457.81" fill="#0b1fa8"/>
<polygon points="75.09,434.86 78.49,434.86 76.79,431.46" fill="#0b1fa8"/>
<circle cx="46.9" cy="466.13" r="1.5" fill="#94a51e"/>
<circle cx="50.34" cy="461.86" r="1.5" fill="#94a51e"/>
<circle cx="44.45" cy="462.63" r="1.5" fill="#94a51e"/>
<circle cx="48.81" cy="459.83" r="1.5" fill="#94a51e"/>
<circle cx="48.45" cy="460.59" r="1.5" fill="#94a51e"/>
<circle cx="48.8" cy="460.78" r="1.5" fill="#94a51e"/>
<circle cx="55.49" cy="457.14" r="1.5" fill="#94a51e"/>
<circle cx="52.93" cy="460.85" r="1.5" fill="#94a51e"/>
<circle cx="53" cy="457.91" r="1.5" fill="#94a51e"/>
<circle cx="52.94" cy="456.9" r="1.5" fill="#94a51e"/>
<circle cx="53.65" cy="454.21" r="1.5" fill="#94a51e"/>
<circle cx="49.76" cy="458.6" r="1.5" fill="#94a51e"/>
<circle cx="56.07" cy="455.05" r="1.5" fill="#94a51e"/>
<circle cx="54.82" cy="456.1" r="1.5" fill="#94a51e"/>
<circle cx="56.34" cy="453.58" r="1.5" fill="#94a51e"/>
<circle cx="59.11" cy="452.73" r="1.5" fill="#94a51e"/>
<circle cx="62.4" cy="451.08" r="1.5" fill="#94a51e"/>
<circle cx="58.63" cy="452.88" r="1.5" fill="#94a51e"/>
<circle cx="59.21" cy="449.19" r="1.5" fill="#94a51e"/>
<circle cx="95.93" cy="411.74" r="1.5" fill="#94a51e"/>
<polygon points="50.6,459.06 51.85,461.26 50.6,463.46 49.35,461.26" fill="#e01a2a"/>
<polygon points="51.29,457.87 52.54,460.07 51.29,462.27 50.04,460.07" fill="#e01a2a"/>
<polygon points="50.91,456.7 52.16,458.9 50.91,461.1 49.66,458.9" fill="#e01a2a"/>
<polygon points="51.39,455.72 52.64,457.92 51.39,460.12 50.14,457.92" fill="#e01a2a"/>
<polygon points="50.54,455.97 51.79,458.17 50.54,460.37 49.29,458.17" fill="#e01a2a"/>
<polygon points="50.99,456.24 52.24,458.44 50.99,460.64 49.74,458.44" fill="#e01a2a"/>
<polygon points="55.27,453.59 56.52,455.79 55.27,457.99 54.02,455.79" fill="#e01a2a"/>
<polygon points="55.23,452.86 56.48,455.06 55.23,457.26 53.98,455.06" fill="#e01a2a"/>
<polygon points="56.77,452.01 58.02,454.21 56.77,456.41 55.52,454.21" fill="#e01a2a"/>
<polygon points="56.11,451.64 57.36,453.84 56.11,456.04 54.86,453.84" fill="#e01a2a"/>
<polygon points="54.71,451.11 55.96,453.31 54.71,455.51 53.46,453.31" fill="#e01a2a"/>
<polygon points="56.52,451.45 57.77,453.65 56.52,455.85 55.27,453.65" fill="#e01a2a"/>
<polygon points="56.62,448.67 57.87,450.87 56.62,453.07 55.37,450.87" fill="#e01a2a"/>
<polygon points="65.04,444.91 66.29,447.11 65.04,449.31 63.79,447.11" fill="#e01a2a"/>
<polygon points="64.71,445.16 65.96,447.36 64.71,449.56 63.46,447.36" fill="#e01a2a"/>
<polygon points="59.57,447.79 60.82,449.99 59.57,452.19 58.32,449.99" fill="#e01a2a"/>
<polygon points="71.91,441.13 73.16,443.33 71.91,445.53 70.66,443.33" fill="#e01a2a"/>
<polygon points="63.88,447.84 65.13,450.04 63.88,452.24 62.63,450.04" fill="#e01a2a"/>
<polygon points="63.92,444.49 65.17,446.69 63.92,448.89 62.67,446.69" fill="#e01a2a"/>
<polygon points="99.5,405.73 100.75,407.93 99.5,410.13 98.25,407.93" fill="#e01a2a"/>
<circle cx="50.34" cy="460.27" r="1.5" fill="#f2e21a"/>
<circle cx="53.6" cy="456.68" r="1.5" fill="#f2e21a"/>
<circle cx="53.73" cy="455.05" r="1.5" fill="#f2e21a"/>
<circle cx="54.25" cy="453.51" r="1.5" fill="#f2e21a"/>
<circle cx="51.49" cy="456.75" r="1.5" fill="#f2e21a"/>
<circle cx="55.28" cy="454.03" r="1.5" fill="#f2e21a"/>
<circle cx="59.28" cy="450.82" r="1.5" fill="#f2e21a"/>
<circle cx="56.53" cy="453.12" r="1.5" fill="#f2e21a"/>
<circle cx="58.31" cy="450.13" r="1.5" fill="#f2e21a"/>
<circle cx="62.44" cy="448.25" r="1.5" fill="#f2e21a"/>
<circle cx="62.23" cy="448.01" r="1.5" fill="#f2e21a"/>
<circle cx="59.13" cy="451.12" r="1.5" fill="#f2e21a"/>
<circle cx="65.09" cy="446.06" r="1.5" fill="#f2e21a"/>
<circle cx="64.47" cy="445.53" r="1.5" fill="#f2e21a"/>
<circle cx="63.38" cy="447.05" r="1.5" fill="#f2e21a"/>
<circle cx="66.19" cy="444.48" r="1.5" fill="#f2e21a"/>
<circle cx="69.32" cy="442.72" r="1.5" fill="#f2e21a"/>
<circle cx="67.5" cy="443.06" r="1.5" fill="#f2e21a"/>
<circle cx="65.08" cy="445.46" r="1.5" fill="#f2e21a"/>
<circle cx="102.57" cy="406.66" r="1.5" fill="#f2e21a"/>
<rect x="57.05" y="455.18" width="2.8" height="2.8" fill="#1eaaf0"/>
<rect x="55.69" y="452.97" width="2.8" height="2.8" fill="#1eaaf0"/>
<rect x="51.86" y="451.38" width="2.8" height="2.8" fill="#1eaaf0"/>
<rect x="53.04" y="451.75" width="2.8" height="2.8" fill="#1eaaf0"/>
<rect x="56.14" y="449.84" width="2.8" height="2.8" fill="#1eaaf0"/>
<rect x="55.9" y="450.78" width="2.8" height="2.8" fill="#1eaaf0"/>
<rect x="58.4" y="448.04" width="2.8" height="2.8" fill="#1eaaf0"/>
<rect x="58.96" y="446.69" width="2.8" height="2.8" fill="#1eaaf0"/>
<rect x="63.31" y="444.13" width="2.8" height="2.8" fill="#1eaaf0"/>
<rect x="60.93" y="446.16" width="2.8" height="2.8" fill="#1eaaf0"/>
<rect x="59.68" y="445.57" width="2.8" height="2.8" fill="#1eaaf0"/>
<rect x="66.24" y="443.62" width="2.8" height="2.8" fill="#1eaaf0"/>
<rect x="65.14" y="442.97" width="2.8" height="2.8" fill="#1eaaf0"/>
<rect x="62.74" y="443.45" width="2.8" height="2.8" fill="#1eaaf0"/>
<rect x="64.89" y="441.6" width="2.8" height="2.8" fill="#1eaaf0"/>
<rect x="65.33" y="441.55" width="2.8" height="2.8" fill="#1eaaf0"/>
<rect x="65.87" y="440.42" width="2.8" height="2.8" fill="#1eaaf0"/>
<rect x="74.59" y="434.91" width="2.8" height="2.8" fill="#1eaaf0"/>
<rect x="71.33" y="437.64" width="2.8" height="2.8" fill="#1eaaf0"/>
<rect x="102.57" y="403.99" width="2.8" height="2.8" fill="#1eaaf0"/>
<polygon points="57.87,453.33 59.67,455.13 57.87,456.93 56.07,455.13" fill="#5e14a0"/>
<polygon points="59.02,449.01 60.82,450.81 59.02,452.61 57.22,450.81" fill="#5e14a0"/>
<polygon points="58.6,450.27 60.4,452.07 58.6,453.87 56.8,452.07" fill="#5e14a0"/>
<polygon points="59.29,450.73 61.09,452.53 59.29,454.33 57.49,452.53" fill="#5e14a0"/>
<polygon points="58.02,447.49 59.82,449.29 58.02,451.09 56.22,449.29" fill="#5e14a0"/>
<polygon points="63.41,445.61 65.21,447.41 63.41,449.21 61.61,447.41" fill="#5e14a0"/>
<polygon points="60.45,446.91 62.25,448.71 60.45,450.51 58.65,448.71" fill="#5e14a0"/>
<polygon points="63.01,445.96 64.81,447.76 63.01,449.56 61.21,447.76" fill="#5e14a0"/>
<polygon points="64.58,442.86 66.38,444.66 64.58,446.46 62.78,444.66" fill="#5e14a0"/>
<polygon points="62.57,445.07 64.37,446.87 62.57,448.67 60.77,446.87" fill="#5e14a0"/>
<polygon points="64.21,444.09 66.01,445.89 64.21,447.69 62.41,445.89" fill="#5e14a0"/>
<polygon points="71.19,440.79 72.99,442.59 71.19,444.39 69.39,442.59" fill="#5e14a0"/>
<polygon points="70.95,438.51 72.75,440.31 70.95,442.11 69.15,440.31" fill="#5e14a0"/>
<polygon points="73.46,437.79 75.26,439.59 73.46,441.39 71.66,439.59" fill="#5e14a0"/>
<polygon points="74.71,437.31 76.51,439.11 74.71,440.91 72.91,439.11" fill="#5e14a0"/>
<polygon points="75.97,435.87 77.77,437.67 75.97,439.47 74.17,437.67" fill="#5e14a0"/>
<polygon points="75.37,433.86 77.17,435.66 75.37,437.46 73.57,435.66" fill="#5e14a0"/>
<polygon points="78.29,431.43 80.09,433.23 78.29,435.03 76.49,433.23" fill="#5e14a0"/>
<polygon points="71.01,436.42 72.81,438.22 71.01,440.02 69.21,438.22" fill="#5e14a0"/>
<polygon points="105.25,402.32 107.05,404.12 105.25,405.92 103.45,404.12" fill="#5e14a0"/>
<polygon points="57.66,449.01 60.96,449.01 59.31,452.31" fill="#a0522d"/>
<polygon points="66.4,442.85 69.7,442.85 68.05,446.15" fill="#a0522d"/>
<polygon points="63.11,444.87 66.41,444.87 64.76,448.17" fill="#a0522d"/>
<polygon points="61.16,444.62 64.46,444.62 62.81,447.92" fill="#a0522d"/>
<polygon points="59.48,443.78 62.78,443.78 61.13,447.08" fill="#a0522d"/>
<polygon points="61.86,445.43 65.16,445.43 63.51,448.73" fill="#a0522d"/>
<polygon points="70.57,439.63 73.87,439.63 72.22,442.93" fill="#a0522d"/>
<polygon points="72.21,438.35 75.51,438.35 73.86,441.65" fill="#a0522d"/>
<polygon points="67.4,438.6 70.7,438.6 69.05,441.9" fill="#a0522d"/>
<polygon points="67.92,439.67 71.22,439.67 69.57,442.97" fill="#a0522d"/>
<polygon points="71.04,434.33 74.34,434.33 72.69,437.63" fill="#a0522d"/>
<polygon points="69.57,437.98 72.87,437.98 71.22,441.28" fill="#a0522d"/>
<polygon points="77.17,431.64 80.47,431.64 78.82,434.94" fill="#a0522d"/>
<polygon points="73.98,435.09 77.28,435.09 75.63,438.39" fill="#a0522d"/>
<polygon points="81.15,429.23 84.45,429.23 82.8,432.53" fill="#a0522d"/>
<polygon points="76.82,432.06 80.12,432.06 78.47,435.36" fill="#a0522d"/>
<polygon points="80.32,427.53 83.62,427.53 81.97,430.83" fill="#a0522d"/>
<polygon points="87.21,424.54 90.51,424.54 88.86,427.84" fill="#a0522d"/>
<polygon points="84.47,427.27 87.77,427.27 86.12,430.57" fill="#a0522d"/>
<polygon points="107.68,399.84 110.98,399.84 109.33,403.14" fill="#a0522d"/>
<polygon points="101.68,406.44 104.98,406.44 103.33,409.74" fill="#a0522d"/>
<polygon points="65.83,444.25 66.33,445.51 67.69,445.59 66.64,446.46 66.98,447.77 65.83,447.05 64.69,447.77 65.02,446.46 63.98,445.59 65.33,445.51" fill="#2a1fd0"/>
<polygon points="71.76,437.28 72.26,438.54 73.62,438.63 72.57,439.49 72.91,440.81 71.76,440.08 70.62,440.81 70.96,439.49 69.91,438.63 71.26,438.54" fill="#2a1fd0"/>
<polygon points="76.12,431.47 76.62,432.73 77.97,432.82 76.93,433.68 77.27,435 76.12,434.27 74.97,435 75.31,433.68 74.27,432.82 75.62,432.73" fill="#2a1fd0"/>
<polygon points="74.99,434.03 75.49,435.29 76.84,435.37 75.8,436.24 76.13,437.56 74.99,436.83 73.84,437.56 74.18,436.24 73.13,435.37 74.49,435.29" fill="#2a1fd0"/>
<polygon points="76.98,430.61 77.48,431.88 78.83,431.96 77.78,432.83 78.12,434.14 76.98,433.41 75.83,434.14 76.17,432.83 75.12,431.96 76.48,431.88" fill="#2a1fd0"/>
<polygon points="79.37,429.64 79.87,430.9 81.23,430.99 80.18,431.85 80.52,433.17 79.37,432.44 78.22,433.17 78.56,431.85 77.52,430.99 78.87,430.9" fill="#2a1fd0"/>
<polygon points="82.41,427.96 82.91,429.22 84.27,429.3 83.22,430.17 83.56,431.48 82.41,430.76 81.27,431.48 81.6,430.17 80.56,429.3 81.91,429.22" fill="#2a1fd0"/>
<polygon points="88.4,422.79 88.9,424.05 90.25,424.14 89.2,425 89.54,426.32 88.4,425.59 87.25,426.32 87.59,425 86.54,424.14 87.9,424.05" fill="#2a1fd0"/>
<polygon points="77,430.79 77.5,432.05 78.86,432.14 77.81,433 78.15,434.32 77,433.59 75.86,434.32 76.2,433 75.15,432.14 76.5,432.05" fill="#2a1fd0"/>
<polygon points="85.85,422.01 86.35,423.27 87.7,423.35 86.65,424.22 86.99,425.53 85.85,424.81 84.7,425.53 85.04,424.22 83.99,423.35 85.35,423.27" fill="#2a1fd0"/>
<polygon points="83.52,422.61 84.02,423.88 85.38,423.96 84.33,424.83 84.67,426.14 83.52,425.41 82.38,426.14 82.72,424.83 81.67,423.96 83.02,423.88" fill="#2a1fd0"/>
<polygon points="118.01,390.61 118.51,391.88 119.86,391.96 118.81,392.83 119.15,394.14 118.01,393.41 116.86,394.14 117.2,392.83 116.15,391.96 117.51,391.88" fill="#2a1fd0"/>
<polygon points="103.33,407.88 103.83,409.15 105.19,409.23 104.14,410.1 104.48,411.41 103.33,410.69 102.19,411.41 102.52,410.1 101.48,409.23 102.83,409.15" fill="#2a1fd0"/>
<polygon points="101.42,408.52 101.92,409.78 103.27,409.87 102.23,410.73 102.56,412.05 101.42,411.32 100.27,412.05 100.61,410.73 99.56,409.87 100.92,409.78" fill="#2a1fd0"/>
<polygon points="98.23,411.06 98.73,412.32 100.08,412.41 99.04,413.27 99.37,414.59 98.23,413.86 97.08,414.59 97.42,413.27 96.37,412.41 97.73,412.32" fill="#2a1fd0"/>
<polygon points="96.95,412.33 97.45,413.59 98.81,413.68 97.76,414.54 98.1,415.86 96.95,415.13 95.81,415.86 96.14,414.54 95.1,413.68 96.45,413.59" fill="#2a1fd0"/>
<polygon points="95.68,412.96 96.18,414.23 97.53,414.31 96.48,415.18 96.82,416.49 95.68,415.76 94.53,416.49 94.87,415.18 93.82,414.31 95.18,414.23" fill="#2a1fd0"/>
<polygon points="91.47,420.71 91.96,421.97 93.32,422.06 92.27,422.92 92.61,424.24 91.47,423.51 90.32,424.24 90.66,422.92 89.61,422.06 90.97,421.97" fill="#2a1fd0"/>
<polygon points="84.57,425.28 85.07,426.55 86.43,426.63 85.38,427.5 85.72,428.81 84.57,428.08 83.43,428.81 83.77,427.5 82.72,426.63 84.08,426.55" fill="#2a1fd0"/>
</g>
<rect x="30.60" y="358.40" width="127.60" height="127.00" fill="none" stroke="#3c3c3c" stroke-width="0.85"/>
<path d="M30.60 485.40v2.6M30.60 485.40h-2.6M56.12 485.40v2.6M30.60 460.00h-2.6M81.64 485.40v2.6M30.60 434.60h-2.6M107.16 485.40v2.6M30.60 409.20h-2.6M132.68 485.40v2.6M30.60 383.80h-2.6M158.20 485.40v2.6M30.60 358.40h-2.6" stroke="#3c3c3c" stroke-width="0.7" fill="none"/>
<g font-size="7" fill="#1c1c1c">
<text x="30.60" y="495.35" text-anchor="middle">0</text>
<text x="25.80" y="487.75" text-anchor="end">0</text>
<text x="56.12" y="495.35" text-anchor="middle">20</text>
<text x="25.80" y="462.35" text-anchor="end">20</text>
<text x="81.64" y="495.35" text-anchor="middle">40</text>
<text x="25.80" y="436.95" text-anchor="end">40</text>
<text x="107.16" y="495.35" text-anchor="middle">60</text>
<text x="25.80" y="411.55" text-anchor="end">60</text>
<text x="132.68" y="495.35" text-anchor="middle">80</text>
<text x="25.80" y="386.15" text-anchor="end">80</text>
<text x="158.20" y="495.35" text-anchor="middle">100</text>
<text x="25.80" y="360.75" text-anchor="end">100</text>
</g>
<text x="94.40" y="504.90" font-size="7" font-weight="bold" text-anchor="middle" fill="#111">AB-AMS (mm)</text>
<text transform="translate(8.20 421.90) rotate(-90)" font-size="7" font-weight="bold" text-anchor="middle" fill="#111">AA-AMS (mm)</text>
<text x="30.70" y="354.15" font-size="7" font-weight="bold" fill="#111">c)</text>
</g>
<g id="panel-d">
<path d="M242.92 27.10V154.30M211.10 122.50H338.40M274.75 27.10V154.30M211.10 90.70H338.40M306.57 27.10V154.30M211.10 58.90H338.40" stroke="#e9e9e9" stroke-width="0.5" fill="none"/>
<path d="M211.10 154.30L338.40 27.10" stroke="#000" stroke-width="0.95" stroke-dasharray="3 1.5" fill="none"/>
<g stroke="#222" stroke-width="0.27" stroke-linejoin="miter">
<polygon points="228.45,151.33 231.85,151.33 230.15,147.93" fill="#0b1fa8"/>
<polygon points="228.44,150.56 231.84,150.56 230.14,147.16" fill="#0b1fa8"/>
<polygon points="228.32,151.41 231.72,151.41 230.02,148.01" fill="#0b1fa8"/>
<polygon points="230.99,150.62 234.39,150.62 232.69,147.22" fill="#0b1fa8"/>
<polygon points="231.36,149.78 234.76,149.78 233.06,146.38" fill="#0b1fa8"/>
<polygon points="232.67,149.85 236.07,149.85 234.37,146.45" fill="#0b1fa8"/>
<polygon points="234.64,149.7 238.04,149.7 236.34,146.3" fill="#0b1fa8"/>
<polygon points="237.99,147.83 241.39,147.83 239.69,144.43" fill="#0b1fa8"/>
<polygon points="235.96,150.2 239.36,150.2 237.66,146.8" fill="#0b1fa8"/>
<polygon points="238.69,147.78 242.09,147.78 240.39,144.38" fill="#0b1fa8"/>
<polygon points="245.28,145.77 248.68,145.77 246.98,142.37" fill="#0b1fa8"/>
<polygon points="242.91,145.06 246.31,145.06 244.61,141.66" fill="#0b1fa8"/>
<polygon points="240.88,148.69 244.28,148.69 242.58,145.29" fill="#0b1fa8"/>
<polygon points="246.62,146.73 250.02,146.73 248.32,143.33" fill="#0b1fa8"/>
<polygon points="244.11,144.61 247.51,144.61 245.81,141.21" fill="#0b1fa8"/>
<polygon points="247.7,145.62 251.1,145.62 249.4,142.22" fill="#0b1fa8"/>
<polygon points="248.41,145.99 251.81,145.99 250.11,142.59" fill="#0b1fa8"/>
<polygon points="247.33,147.37 250.73,147.37 249.03,143.97" fill="#0b1fa8"/>
<polygon points="250.97,145.32 254.37,145.32 252.67,141.92" fill="#0b1fa8"/>
<polygon points="249.96,145.69 253.36,145.69 251.66,142.29" fill="#0b1fa8"/>
<polygon points="247.52,146.17 250.92,146.17 249.22,142.77" fill="#0b1fa8"/>
<polygon points="250.56,145.2 253.96,145.2 252.26,141.8" fill="#0b1fa8"/>
<circle cx="236.63" cy="146.26" r="1.5" fill="#94a51e"/>
<circle cx="235.85" cy="147.05" r="1.5" fill="#94a51e"/>
<circle cx="242.33" cy="144.3" r="1.5" fill="#94a51e"/>
<circle cx="239.91" cy="145.06" r="1.5" fill="#94a51e"/>
<circle cx="242.97" cy="142.78" r="1.5" fill="#94a51e"/>
<circle cx="241.94" cy="146.47" r="1.5" fill="#94a51e"/>
<circle cx="245.61" cy="142.37" r="1.5" fill="#94a51e"/>
<circle cx="248.16" cy="141.87" r="1.5" fill="#94a51e"/>
<circle cx="249.14" cy="142.31" r="1.5" fill="#94a51e"/>
<circle cx="253.1" cy="138.75" r="1.5" fill="#94a51e"/>
<circle cx="250.96" cy="140.77" r="1.5" fill="#94a51e"/>
<circle cx="252.8" cy="138.68" r="1.5" fill="#94a51e"/>
<circle cx="260.33" cy="137.31" r="1.5" fill="#94a51e"/>
<circle cx="258.03" cy="137.61" r="1.5" fill="#94a51e"/>
<circle cx="256.9" cy="137.18" r="1.5" fill="#94a51e"/>
<circle cx="260.31" cy="138.26" r="1.5" fill="#94a51e"/>
<circle cx="258.63" cy="136.61" r="1.5" fill="#94a51e"/>
<circle cx="269.18" cy="136.8" r="1.5" fill="#94a51e"/>
<circle cx="261.9" cy="138.76" r="1.5" fill="#94a51e"/>
<circle cx="271.18" cy="134.74" r="1.5" fill="#94a51e"/>
<circle cx="267.61" cy="135.39" r="1.5" fill="#94a51e"/>
<circle cx="275.22" cy="134.61" r="1.5" fill="#94a51e"/>
<polygon points="237.75,142.02 239,144.22 237.75,146.42 236.5,144.22" fill="#e01a2a"/>
<polygon points="240.84,140.23 242.09,142.43 240.84,144.63 239.59,142.43" fill="#e01a2a"/>
<polygon points="242.66,139.3 243.91,141.5 242.66,143.7 241.41,141.5" fill="#e01a2a"/>
<polygon points="246,139.03 247.25,141.23 246,143.43 244.75,141.23" fill="#e01a2a"/>
<polygon points="247.62,136.76 248.87,138.96 247.62,141.16 246.37,138.96" fill="#e01a2a"/>
<polygon points="244.12,140.97 245.37,143.17 244.12,145.37 242.87,143.17" fill="#e01a2a"/>
<polygon points="250.22,136.95 251.47,139.15 250.22,141.35 248.97,139.15" fill="#e01a2a"/>
<polygon points="252.74,134.92 253.99,137.12 252.74,139.32 251.49,137.12" fill="#e01a2a"/>
<polygon points="255.59,133.4 256.84,135.6 255.59,137.8 254.34,135.6" fill="#e01a2a"/>
<polygon points="259.29,131.25 260.54,133.45 259.29,135.65 258.04,133.45" fill="#e01a2a"/>
<polygon points="262.04,130.46 263.29,132.66 262.04,134.86 260.79,132.66" fill="#e01a2a"/>
<polygon points="261.41,128.95 262.66,131.15 261.41,133.35 260.16,131.15" fill="#e01a2a"/>
<polygon points="261.55,130.07 262.8,132.27 261.55,134.47 260.3,132.27" fill="#e01a2a"/>
<polygon points="258.75,132.27 260,134.47 258.75,136.67 257.5,134.47" fill="#e01a2a"/>
<polygon points="265.84,126.61 267.09,128.81 265.84,131.01 264.59,128.81" fill="#e01a2a"/>
<polygon points="264.27,130.94 265.52,133.14 264.27,135.34 263.02,133.14" fill="#e01a2a"/>
<polygon points="277.97,123.05 279.22,125.25 277.97,127.45 276.72,125.25" fill="#e01a2a"/>
<polygon points="274.17,126.6 275.42,128.8 274.17,131 272.92,128.8" fill="#e01a2a"/>
<polygon points="271.74,129.1 272.99,131.3 271.74,133.5 270.49,131.3" fill="#e01a2a"/>
<polygon points="275.54,129.01 276.79,131.21 275.54,133.41 274.29,131.21" fill="#e01a2a"/>
<polygon points="274.8,128 276.05,130.2 274.8,132.4 273.55,130.2" fill="#e01a2a"/>
<polygon points="269.38,129.98 270.63,132.18 269.38,134.38 268.13,132.18" fill="#e01a2a"/>
<circle cx="241.73" cy="141.67" r="1.5" fill="#f2e21a"/>
<circle cx="243.74" cy="139.83" r="1.5" fill="#f2e21a"/>
<circle cx="240.92" cy="140.95" r="1.5" fill="#f2e21a"/>
<circle cx="243.97" cy="139.31" r="1.5" fill="#f2e21a"/>
<circle cx="244.38" cy="137.79" r="1.5" fill="#f2e21a"/>
<circle cx="247.46" cy="139.13" r="1.5" fill="#f2e21a"/>
<circle cx="250.51" cy="134.71" r="1.5" fill="#f2e21a"/>
<circle cx="254.85" cy="133.58" r="1.5" fill="#f2e21a"/>
<circle cx="258.34" cy="130.66" r="1.5" fill="#f2e21a"/>
<circle cx="260.95" cy="132.2" r="1.5" fill="#f2e21a"/>
<circle cx="258.86" cy="130.39" r="1.5" fill="#f2e21a"/>
<circle cx="261.5" cy="128.26" r="1.5" fill="#f2e21a"/>
<circle cx="262.77" cy="129.28" r="1.5" fill="#f2e21a"/>
<circle cx="264.15" cy="127.67" r="1.5" fill="#f2e21a"/>
<circle cx="268.99" cy="123.95" r="1.5" fill="#f2e21a"/>
<circle cx="270.87" cy="128.71" r="1.5" fill="#f2e21a"/>
<circle cx="276.56" cy="123.26" r="1.5" fill="#f2e21a"/>
<circle cx="272.08" cy="126.92" r="1.5" fill="#f2e21a"/>
<circle cx="280.69" cy="124.84" r="1.5" fill="#f2e21a"/>
<circle cx="283.85" cy="124.79" r="1.5" fill="#f2e21a"/>
<circle cx="273.33" cy="125.97" r="1.5" fill="#f2e21a"/>
<circle cx="283.51" cy="124.6" r="1.5" fill="#f2e21a"/>
<rect x="238.43" y="139.87" width="2.8" height="2.8" fill="#1eaaf0"/>
<rect x="238.96" y="137.36" width="2.8" height="2.8" fill="#1eaaf0"/>
<rect x="242.34" y="136" width="2.8" height="2.8" fill="#1eaaf0"/>
<rect x="243.25" y="136.33" width="2.8" height="2.8" fill="#1eaaf0"/>
<rect x="242.84" y="134.81" width="2.8" height="2.8" fill="#1eaaf0"/>
<rect x="242.64" y="137.35" width="2.8" height="2.8" fill="#1eaaf0"/>
<rect x="253.72" y="127.7" width="2.8" height="2.8" fill="#1eaaf0"/>
<rect x="250.68" y="130.35" width="2.8" height="2.8" fill="#1eaaf0"/>
<rect x="258.75" y="124.72" width="2.8" height="2.8" fill="#1eaaf0"/>
<rect x="260.5" y="124.77" width="2.8" height="2.8" fill="#1eaaf0"/>
<rect x="258.2" y="121.75" width="2.8" height="2.8" fill="#1eaaf0"/>
<rect x="251.3" y="126.43" width="2.8" height="2.8" fill="#1eaaf0"/>
<rect x="270.14" y="122.17" width="2.8" height="2.8" fill="#1eaaf0"/>
<rect x="256.08" y="123.57" width="2.8" height="2.8" fill="#1eaaf0"/>
<rect x="261.28" y="120.12" width="2.8" height="2.8" fill="#1eaaf0"/>
<rect x="269.11" y="120" width="2.8" height="2.8" fill="#1eaaf0"/>
<rect x="274.63" y="117.32" width="2.8" height="2.8" fill="#1eaaf0"/>
<rect x="272.17" y="119.56" width="2.8" height="2.8" fill="#1eaaf0"/>
<rect x="271.41" y="122.56" width="2.8" height="2.8" fill="#1eaaf0"/>
<rect x="277.72" y="118.36" width="2.8" height="2.8" fill="#1eaaf0"/>
<rect x="272.19" y="121.19" width="2.8" height="2.8" fill="#1eaaf0"/>
<rect x="279.03" y="121.97" width="2.8" height="2.8" fill="#1eaaf0"/>
<polygon points="238.88,138.69 240.68,140.49 238.88,142.29 237.08,140.49" fill="#5e14a0"/>
<polygon points="242.27,135.33 244.07,137.13 242.27,138.93 240.47,137.13" fill="#5e14a0"/>
<polygon points="247.13,130.56 248.93,132.36 247.13,134.16 245.33,132.36" fill="#5e14a0"/>
<polygon points="243.34,134.61 245.14,136.41 243.34,138.21 241.54,136.41" fill="#5e14a0"/>
<polygon points="246.4,129.66 248.2,131.46 246.4,133.26 244.6,131.46" fill="#5e14a0"/>
<polygon points="252.6,128.24 254.4,130.04 252.6,131.84 250.8,130.04" fill="#5e14a0"/>
<polygon points="252.19,126.68 253.99,128.48 252.19,130.28 250.39,128.48" fill="#5e14a0"/>
<polygon points="251.15,126.69 252.95,128.49 251.15,130.29 249.35,128.49" fill="#5e14a0"/>
<polygon points="256.1,123.55 257.9,125.35 256.1,127.15 254.3,125.35" fill="#5e14a0"/>
<polygon points="263,119.67 264.8,121.47 263,123.27 261.2,121.47" fill="#5e14a0"/>
<polygon points="263.03,117.88 264.83,119.68 263.03,121.48 261.23,119.68" fill="#5e14a0"/>
<polygon points="259.7,118.46 261.5,120.26 259.7,122.06 257.9,120.26" fill="#5e14a0"/>
<polygon points="264.34,118.29 266.14,120.09 264.34,121.89 262.54,120.09" fill="#5e14a0"/>
<polygon points="259.89,120.31 261.69,122.11 259.89,123.91 258.09,122.11" fill="#5e14a0"/>
<polygon points="265.67,115.33 267.47,117.13 265.67,118.93 263.87,117.13" fill="#5e14a0"/>
<polygon points="275.89,114.49 277.69,116.29 275.89,118.09 274.09,116.29" fill="#5e14a0"/>
<polygon points="271.84,113.05 273.64,114.85 271.84,116.65 270.04,114.85" fill="#5e14a0"/>
<polygon points="273.47,113.7 275.27,115.5 273.47,117.3 271.67,115.5" fill="#5e14a0"/>
<polygon points="274.3,116.33 276.1,118.13 274.3,119.93 272.5,118.13" fill="#5e14a0"/>
<polygon points="284.05,111.83 285.85,113.63 284.05,115.43 282.25,113.63" fill="#5e14a0"/>
<polygon points="276.01,114.3 277.81,116.1 276.01,117.9 274.21,116.1" fill="#5e14a0"/>
<polygon points="284.5,115.14 286.3,116.94 284.5,118.74 282.7,116.94" fill="#5e14a0"/>
<polygon points="238.58,136.6 241.88,136.6 240.23,139.9" fill="#a0522d"/>
<polygon points="243.31,131.89 246.61,131.89 244.96,135.19" fill="#a0522d"/>
<polygon points="246.84,127.45 250.14,127.45 248.49,130.75" fill="#a0522d"/>
<polygon points="246.32,129.29 249.62,129.29 247.97,132.59" fill="#a0522d"/>
<polygon points="242.81,129.08 246.11,129.08 244.46,132.38" fill="#a0522d"/>
<polygon points="247.9,128.14 251.2,128.14 249.55,131.44" fill="#a0522d"/>
<polygon points="251.24,123.43 254.54,123.43 252.89,126.73" fill="#a0522d"/>
<polygon points="253.74,119.02 257.04,119.02 255.39,122.32" fill="#a0522d"/>
<polygon points="260.09,116.95 263.39,116.95 261.74,120.25" fill="#a0522d"/>
<polygon points="260.03,116.66 263.33,116.66 261.68,119.96" fill="#a0522d"/>
<polygon points="263.04,110.35 266.34,110.35 264.69,113.65" fill="#a0522d"/>
<polygon points="262.61,114.31 265.91,114.31 264.26,117.61" fill="#a0522d"/>
<polygon points="260.58,114 263.88,114 262.23,117.3" fill="#a0522d"/>
<polygon points="266.32,110.84 269.62,110.84 267.97,114.14" fill="#a0522d"/>
<polygon points="264.58,109.24 267.88,109.24 266.23,112.54" fill="#a0522d"/>
<polygon points="282.57,104.95 285.87,104.95 284.22,108.25" fill="#a0522d"/>
<polygon points="272.65,107.51 275.95,107.51 274.3,110.81" fill="#a0522d"/>
<polygon points="270.93,109.98 274.23,109.98 272.58,113.28" fill="#a0522d"/>
<polygon points="281.55,106.47 284.85,106.47 283.2,109.77" fill="#a0522d"/>
<polygon points="279.86,108.19 283.16,108.19 281.51,111.49" fill="#a0522d"/>
<polygon points="280.63,107.15 283.93,107.15 282.28,110.45" fill="#a0522d"/>
<polygon points="277.4,113.63 280.7,113.63 279.05,116.93" fill="#a0522d"/>
<polygon points="292.51,96.05 295.81,96.05 294.16,99.35" fill="#a0522d"/>
<polygon points="284.88,98.28 288.18,98.28 286.53,101.58" fill="#a0522d"/>
<polygon points="279.31,100.82 282.61,100.82 280.96,104.12" fill="#a0522d"/>
<polygon points="245.76,128.8 246.26,130.07 247.62,130.15 246.57,131.02 246.91,132.33 245.76,131.6 244.62,132.33 244.96,131.02 243.91,130.15 245.26,130.07" fill="#2a1fd0"/>
<polygon points="241.62,130.71 242.12,131.97 243.47,132.05 242.43,132.92 242.77,134.23 241.62,133.51 240.47,134.23 240.81,132.92 239.77,132.05 241.12,131.97" fill="#2a1fd0"/>
<polygon points="245.24,126.03 245.74,127.29 247.1,127.37 246.05,128.24 246.39,129.55 245.24,128.83 244.1,129.55 244.43,128.24 243.39,127.37 244.74,127.29" fill="#2a1fd0"/>
<polygon points="250.08,123.08 250.58,124.34 251.94,124.43 250.89,125.29 251.23,126.61 250.08,125.88 248.94,126.61 249.27,125.29 248.23,124.43 249.58,124.34" fill="#2a1fd0"/>
<polygon points="248.1,121.92 248.6,123.18 249.96,123.26 248.91,124.13 249.25,125.44 248.1,124.72 246.96,125.44 247.29,124.13 246.25,123.26 247.6,123.18" fill="#2a1fd0"/>
<polygon points="253.5,121.37 254,122.63 255.36,122.71 254.31,123.58 254.65,124.89 253.5,124.17 252.36,124.89 252.7,123.58 251.65,122.71 253,122.63" fill="#2a1fd0"/>
<polygon points="251.38,122 251.88,123.27 253.23,123.35 252.18,124.22 252.52,125.53 251.38,124.8 250.23,125.53 250.57,124.22 249.52,123.35 250.88,123.27" fill="#2a1fd0"/>
<polygon points="253.11,117.92 253.61,119.18 254.97,119.27 253.92,120.13 254.26,121.45 253.11,120.72 251.97,121.45 252.31,120.13 251.26,119.27 252.62,119.18" fill="#2a1fd0"/>
<polygon points="263.59,112.23 264.09,113.5 265.45,113.58 264.4,114.45 264.74,115.76 263.59,115.03 262.44,115.76 262.78,114.45 261.74,113.58 263.09,113.5" fill="#2a1fd0"/>
<polygon points="255.11,115.62 255.61,116.89 256.97,116.97 255.92,117.84 256.26,119.15 255.11,118.42 253.97,119.15 254.31,117.84 253.26,116.97 254.61,116.89" fill="#2a1fd0"/>
<polygon points="267.09,104.71 267.59,105.97 268.94,106.06 267.9,106.92 268.24,108.24 267.09,107.51 265.94,108.24 266.28,106.92 265.24,106.06 266.59,105.97" fill="#2a1fd0"/>
<polygon points="270.3,105.2 270.8,106.46 272.15,106.54 271.11,107.41 271.44,108.72 270.3,108 269.15,108.72 269.49,107.41 268.44,106.54 269.8,106.46" fill="#2a1fd0"/>
<polygon points="262.61,108.43 263.11,109.69 264.46,109.78 263.41,110.64 263.75,111.96 262.61,111.23 261.46,111.96 261.8,110.64 260.75,109.78 262.11,109.69" fill="#2a1fd0"/>
<polygon points="264.73,108.94 265.23,110.2 266.58,110.29 265.54,111.15 265.88,112.47 264.73,111.74 263.58,112.47 263.92,111.15 262.88,110.29 264.23,110.2" fill="#2a1fd0"/>
<polygon points="274.45,98.07 274.95,99.33 276.3,99.41 275.25,100.28 275.59,101.59 274.45,100.87 273.3,101.59 273.64,100.28 272.59,99.41 273.95,99.33" fill="#2a1fd0"/>
<polygon points="277.69,103.57 278.19,104.83 279.55,104.92 278.5,105.78 278.84,107.1 277.69,106.37 276.54,107.1 276.88,105.78 275.84,104.92 277.19,104.83" fill="#2a1fd0"/>
<polygon points="278.51,97.71 279.01,98.97 280.37,99.06 279.32,99.92 279.66,101.24 278.51,100.51 277.36,101.24 277.7,99.92 276.66,99.06 278.01,98.97" fill="#2a1fd0"/>
<polygon points="283.72,100.84 284.22,102.1 285.57,102.19 284.53,103.05 284.86,104.37 283.72,103.64 282.57,104.37 282.91,103.05 281.86,102.19 283.22,102.1" fill="#2a1fd0"/>
<polygon points="277.47,105.29 277.97,106.55 279.33,106.63 278.28,107.5 278.62,108.81 277.47,108.09 276.33,108.81 276.66,107.5 275.62,106.63 276.97,106.55" fill="#2a1fd0"/>
<polygon points="284.52,101.99 285.02,103.26 286.38,103.34 285.33,104.21 285.67,105.52 284.52,104.79 283.38,105.52 283.72,104.21 282.67,103.34 284.02,103.26" fill="#2a1fd0"/>
<polygon points="284.56,102.77 285.06,104.03 286.41,104.12 285.36,104.98 285.7,106.3 284.56,105.57 283.41,106.3 283.75,104.98 282.7,104.12 284.06,104.03" fill="#2a1fd0"/>
<polygon points="281.99,107.77 282.49,109.03 283.85,109.11 282.8,109.98 283.14,111.29 281.99,110.57 280.85,111.29 281.18,109.98 280.14,109.11 281.49,109.03" fill="#2a1fd0"/>
<polygon points="312.62,58.86 313.12,60.12 314.48,60.21 313.43,61.07 313.77,62.39 312.62,61.66 311.48,62.39 311.81,61.07 310.77,60.21 312.12,60.12" fill="#2a1fd0"/>
<polygon points="310.87,67.76 311.37,69.02 312.73,69.11 311.68,69.97 312.02,71.29 310.87,70.56 309.73,71.29 310.06,69.97 309.02,69.11 310.37,69.02" fill="#2a1fd0"/>
<polygon points="302.44,84.93 302.94,86.2 304.29,86.28 303.25,87.15 303.58,88.46 302.44,87.73 301.29,88.46 301.63,87.15 300.58,86.28 301.94,86.2" fill="#2a1fd0"/>
<polygon points="301.96,94.16 302.46,95.42 303.81,95.5 302.77,96.37 303.11,97.68 301.96,96.96 300.81,97.68 301.15,96.37 300.11,95.5 301.46,95.42" fill="#2a1fd0"/>
<polygon points="283.98,94.16 284.48,95.42 285.83,95.5 284.79,96.37 285.13,97.68 283.98,96.96 282.83,97.68 283.17,96.37 282.12,95.5 283.48,95.42" fill="#2a1fd0"/>
<polygon points="278.09,94.79 278.59,96.05 279.95,96.14 278.9,97 279.24,98.32 278.09,97.59 276.95,98.32 277.28,97 276.24,96.14 277.59,96.05" fill="#2a1fd0"/>
</g>
<rect x="211.10" y="27.10" width="127.30" height="127.20" fill="none" stroke="#3c3c3c" stroke-width="0.85"/>
<path d="M211.10 154.30v2.6M211.10 154.30h-2.6M242.92 154.30v2.6M211.10 122.50h-2.6M274.75 154.30v2.6M211.10 90.70h-2.6M306.57 154.30v2.6M211.10 58.90h-2.6M338.40 154.30v2.6M211.10 27.10h-2.6" stroke="#3c3c3c" stroke-width="0.7" fill="none"/>
<g font-size="7" fill="#1c1c1c">
<text x="211.10" y="164.25" text-anchor="middle">0</text>
<text x="206.30" y="156.65" text-anchor="end">0</text>
<text x="242.92" y="164.25" text-anchor="middle">20</text>
<text x="206.30" y="124.85" text-anchor="end">20</text>
<text x="274.75" y="164.25" text-anchor="middle">40</text>
<text x="206.30" y="93.05" text-anchor="end">40</text>
<text x="306.57" y="164.25" text-anchor="middle">60</text>
<text x="206.30" y="61.25" text-anchor="end">60</text>
<text x="338.40" y="164.25" text-anchor="middle">80</text>
<text x="206.30" y="29.45" text-anchor="end">80</text>
</g>
<text x="274.75" y="173.80" font-size="7" font-weight="bold" text-anchor="middle" fill="#111">AA-AMS (mm)</text>
<text transform="translate(193.20 90.70) rotate(-90)" font-size="7" font-weight="bold" text-anchor="middle" fill="#111">IMERG AMS (mm)</text>
<text x="211.20" y="22.85" font-size="7" font-weight="bold" fill="#111">d)</text>
</g>
<g id="panel-e">
<path d="M242.92 192.90V319.80M211.10 288.07H338.40M274.75 192.90V319.80M211.10 256.35H338.40M306.57 192.90V319.80M211.10 224.62H338.40" stroke="#e9e9e9" stroke-width="0.5" fill="none"/>
<path d="M211.10 319.80L338.40 192.90" stroke="#000" stroke-width="0.95" stroke-dasharray="3 1.5" fill="none"/>
<g stroke="#222" stroke-width="0.27" stroke-linejoin="miter">
<polygon points="221.49,316.84 224.89,316.84 223.19,313.44" fill="#0b1fa8"/>
<polygon points="218.57,316.07 221.97,316.07 220.27,312.67" fill="#0b1fa8"/>
<polygon points="222.87,316.92 226.27,316.92 224.57,313.52" fill="#0b1fa8"/>
<polygon points="220.82,316.13 224.22,316.13 222.52,312.73" fill="#0b1fa8"/>
<polygon points="223.14,315.29 226.54,315.29 224.84,311.89" fill="#0b1fa8"/>
<polygon points="220.91,315.36 224.31,315.36 222.61,311.96" fill="#0b1fa8"/>
<polygon points="225.87,315.21 229.27,315.21 227.57,311.81" fill="#0b1fa8"/>
<polygon points="228.36,313.35 231.76,313.35 230.06,309.95" fill="#0b1fa8"/>
<polygon points="225.45,315.71 228.85,315.71 227.15,312.31" fill="#0b1fa8"/>
<polygon points="228.44,313.3 231.84,313.3 230.14,309.9" fill="#0b1fa8"/>
<polygon points="239.27,311.3 242.67,311.3 240.97,307.9" fill="#0b1fa8"/>
<polygon points="234.17,310.58 237.57,310.58 235.87,307.18" fill="#0b1fa8"/>
<polygon points="232.49,314.21 235.89,314.21 234.19,310.81" fill="#0b1fa8"/>
<polygon points="230.71,312.25 234.11,312.25 232.41,308.85" fill="#0b1fa8"/>
<polygon points="236.19,310.13 239.59,310.13 237.89,306.73" fill="#0b1fa8"/>
<polygon points="238.34,311.15 241.74,311.15 240.04,307.75" fill="#0b1fa8"/>
<polygon points="237.93,311.51 241.33,311.51 239.63,308.11" fill="#0b1fa8"/>
<polygon points="241.31,312.89 244.71,312.89 243.01,309.49" fill="#0b1fa8"/>
<polygon points="238.63,310.84 242.03,310.84 240.33,307.44" fill="#0b1fa8"/>
<polygon points="237.35,311.21 240.75,311.21 239.05,307.81" fill="#0b1fa8"/>
<polygon points="239.06,311.69 242.46,311.69 240.76,308.29" fill="#0b1fa8"/>
<polygon points="239.38,310.72 242.78,310.72 241.08,307.32" fill="#0b1fa8"/>
<circle cx="224.1" cy="311.78" r="1.5" fill="#94a51e"/>
<circle cx="221.25" cy="312.57" r="1.5" fill="#94a51e"/>
<circle cx="234.75" cy="309.83" r="1.5" fill="#94a51e"/>
<circle cx="234.44" cy="310.58" r="1.5" fill="#94a51e"/>
<circle cx="230.52" cy="308.31" r="1.5" fill="#94a51e"/>
<circle cx="231.11" cy="311.99" r="1.5" fill="#94a51e"/>
<circle cx="231.46" cy="307.9" r="1.5" fill="#94a51e"/>
<circle cx="235.65" cy="307.4" r="1.5" fill="#94a51e"/>
<circle cx="240.09" cy="307.84" r="1.5" fill="#94a51e"/>
<circle cx="241.15" cy="304.29" r="1.5" fill="#94a51e"/>
<circle cx="242.31" cy="306.3" r="1.5" fill="#94a51e"/>
<circle cx="243.99" cy="304.21" r="1.5" fill="#94a51e"/>
<circle cx="243.79" cy="302.85" r="1.5" fill="#94a51e"/>
<circle cx="249.03" cy="303.15" r="1.5" fill="#94a51e"/>
<circle cx="246.67" cy="302.72" r="1.5" fill="#94a51e"/>
<circle cx="254.03" cy="303.8" r="1.5" fill="#94a51e"/>
<circle cx="243.5" cy="302.15" r="1.5" fill="#94a51e"/>
<circle cx="262.41" cy="302.34" r="1.5" fill="#94a51e"/>
<circle cx="248.46" cy="304.3" r="1.5" fill="#94a51e"/>
<circle cx="264.01" cy="300.29" r="1.5" fill="#94a51e"/>
<circle cx="260.41" cy="300.93" r="1.5" fill="#94a51e"/>
<circle cx="272.56" cy="300.16" r="1.5" fill="#94a51e"/>
<polygon points="229.75,307.54 231,309.74 229.75,311.94 228.5,309.74" fill="#e01a2a"/>
<polygon points="232.71,305.76 233.96,307.96 232.71,310.16 231.46,307.96" fill="#e01a2a"/>
<polygon points="226.35,304.83 227.6,307.03 226.35,309.23 225.1,307.03" fill="#e01a2a"/>
<polygon points="236.37,304.56 237.62,306.76 236.37,308.96 235.12,306.76" fill="#e01a2a"/>
<polygon points="234.12,302.3 235.37,304.5 234.12,306.7 232.87,304.5" fill="#e01a2a"/>
<polygon points="233.51,306.49 234.76,308.69 233.51,310.89 232.26,308.69" fill="#e01a2a"/>
<polygon points="232.51,302.49 233.76,304.69 232.51,306.89 231.26,304.69" fill="#e01a2a"/>
<polygon points="241.05,300.46 242.3,302.66 241.05,304.86 239.8,302.66" fill="#e01a2a"/>
<polygon points="249.47,298.95 250.72,301.15 249.47,303.35 248.22,301.15" fill="#e01a2a"/>
<polygon points="255.55,296.8 256.8,299 255.55,301.2 254.3,299" fill="#e01a2a"/>
<polygon points="254.14,296.01 255.39,298.21 254.14,300.41 252.89,298.21" fill="#e01a2a"/>
<polygon points="250.77,294.51 252.02,296.71 250.77,298.91 249.52,296.71" fill="#e01a2a"/>
<polygon points="250.15,295.62 251.4,297.82 250.15,300.02 248.9,297.82" fill="#e01a2a"/>
<polygon points="252.01,297.82 253.26,300.02 252.01,302.22 250.76,300.02" fill="#e01a2a"/>
<polygon points="261.52,292.17 262.77,294.37 261.52,296.57 260.27,294.37" fill="#e01a2a"/>
<polygon points="262.69,296.49 263.94,298.69 262.69,300.89 261.44,298.69" fill="#e01a2a"/>
<polygon points="271.71,288.62 272.96,290.82 271.71,293.02 270.46,290.82" fill="#e01a2a"/>
<polygon points="270.27,292.16 271.52,294.36 270.27,296.56 269.02,294.36" fill="#e01a2a"/>
<polygon points="263.33,294.65 264.58,296.85 263.33,299.05 262.08,296.85" fill="#e01a2a"/>
<polygon points="266.06,294.57 267.31,296.77 266.06,298.97 264.81,296.77" fill="#e01a2a"/>
<polygon points="267.6,293.56 268.85,295.76 267.6,297.96 266.35,295.76" fill="#e01a2a"/>
<polygon points="261.96,295.53 263.21,297.73 261.96,299.93 260.71,297.73" fill="#e01a2a"/>
<circle cx="236.1" cy="307.2" r="1.5" fill="#f2e21a"/>
<circle cx="235.04" cy="305.36" r="1.5" fill="#f2e21a"/>
<circle cx="227.02" cy="306.49" r="1.5" fill="#f2e21a"/>
<circle cx="237.7" cy="304.85" r="1.5" fill="#f2e21a"/>
<circle cx="232.14" cy="303.33" r="1.5" fill="#f2e21a"/>
<circle cx="234.15" cy="304.67" r="1.5" fill="#f2e21a"/>
<circle cx="236.48" cy="300.26" r="1.5" fill="#f2e21a"/>
<circle cx="239.52" cy="299.13" r="1.5" fill="#f2e21a"/>
<circle cx="248.29" cy="296.21" r="1.5" fill="#f2e21a"/>
<circle cx="251.49" cy="297.75" r="1.5" fill="#f2e21a"/>
<circle cx="251.25" cy="295.94" r="1.5" fill="#f2e21a"/>
<circle cx="249.62" cy="293.82" r="1.5" fill="#f2e21a"/>
<circle cx="252.19" cy="294.84" r="1.5" fill="#f2e21a"/>
<circle cx="253.63" cy="293.23" r="1.5" fill="#f2e21a"/>
<circle cx="258.97" cy="289.53" r="1.5" fill="#f2e21a"/>
<circle cx="262.06" cy="294.27" r="1.5" fill="#f2e21a"/>
<circle cx="268.76" cy="288.83" r="1.5" fill="#f2e21a"/>
<circle cx="267.3" cy="292.48" r="1.5" fill="#f2e21a"/>
<circle cx="275.77" cy="290.41" r="1.5" fill="#f2e21a"/>
<circle cx="280.4" cy="290.36" r="1.5" fill="#f2e21a"/>
<circle cx="266.76" cy="291.54" r="1.5" fill="#f2e21a"/>
<circle cx="279.02" cy="290.17" r="1.5" fill="#f2e21a"/>
<rect x="229.88" y="305.4" width="2.8" height="2.8" fill="#1eaaf0"/>
<rect x="229.11" y="302.9" width="2.8" height="2.8" fill="#1eaaf0"/>
<rect x="232.29" y="301.54" width="2.8" height="2.8" fill="#1eaaf0"/>
<rect x="235.03" y="301.87" width="2.8" height="2.8" fill="#1eaaf0"/>
<rect x="227.93" y="300.35" width="2.8" height="2.8" fill="#1eaaf0"/>
<rect x="229.97" y="302.88" width="2.8" height="2.8" fill="#1eaaf0"/>
<rect x="236.78" y="293.26" width="2.8" height="2.8" fill="#1eaaf0"/>
<rect x="236.84" y="295.9" width="2.8" height="2.8" fill="#1eaaf0"/>
<rect x="245.44" y="290.29" width="2.8" height="2.8" fill="#1eaaf0"/>
<rect x="249.29" y="290.33" width="2.8" height="2.8" fill="#1eaaf0"/>
<rect x="250.9" y="287.32" width="2.8" height="2.8" fill="#1eaaf0"/>
<rect x="241.72" y="291.99" width="2.8" height="2.8" fill="#1eaaf0"/>
<rect x="261.1" y="287.75" width="2.8" height="2.8" fill="#1eaaf0"/>
<rect x="241.83" y="289.14" width="2.8" height="2.8" fill="#1eaaf0"/>
<rect x="252.18" y="285.69" width="2.8" height="2.8" fill="#1eaaf0"/>
<rect x="264.6" y="285.57" width="2.8" height="2.8" fill="#1eaaf0"/>
<rect x="262.88" y="282.91" width="2.8" height="2.8" fill="#1eaaf0"/>
<rect x="265.5" y="285.14" width="2.8" height="2.8" fill="#1eaaf0"/>
<rect x="261.43" y="288.14" width="2.8" height="2.8" fill="#1eaaf0"/>
<rect x="272.12" y="283.94" width="2.8" height="2.8" fill="#1eaaf0"/>
<rect x="267.43" y="286.76" width="2.8" height="2.8" fill="#1eaaf0"/>
<rect x="275.23" y="287.54" width="2.8" height="2.8" fill="#1eaaf0"/>
<polygon points="229.23,304.22 231.03,306.02 229.23,307.82 227.43,306.02" fill="#5e14a0"/>
<polygon points="232.08,300.87 233.88,302.67 232.08,304.47 230.28,302.67" fill="#5e14a0"/>
<polygon points="237.37,296.11 239.17,297.91 237.37,299.71 235.57,297.91" fill="#5e14a0"/>
<polygon points="231.24,300.16 233.04,301.96 231.24,303.76 229.44,301.96" fill="#5e14a0"/>
<polygon points="235.07,295.21 236.87,297.01 235.07,298.81 233.27,297.01" fill="#5e14a0"/>
<polygon points="243.35,293.8 245.15,295.6 243.35,297.4 241.55,295.6" fill="#5e14a0"/>
<polygon points="239.81,292.24 241.61,294.04 239.81,295.84 238.01,294.04" fill="#5e14a0"/>
<polygon points="243.92,292.25 245.72,294.05 243.92,295.85 242.12,294.05" fill="#5e14a0"/>
<polygon points="243.8,289.12 245.6,290.92 243.8,292.72 242,290.92" fill="#5e14a0"/>
<polygon points="255.38,285.25 257.18,287.05 255.38,288.85 253.58,287.05" fill="#5e14a0"/>
<polygon points="254.43,283.46 256.23,285.26 254.43,287.06 252.63,285.26" fill="#5e14a0"/>
<polygon points="248.98,284.04 250.78,285.84 248.98,287.64 247.18,285.84" fill="#5e14a0"/>
<polygon points="251.56,283.87 253.36,285.67 251.56,287.47 249.76,285.67" fill="#5e14a0"/>
<polygon points="249.34,285.88 251.14,287.68 249.34,289.48 247.54,287.68" fill="#5e14a0"/>
<polygon points="252.18,280.91 253.98,282.71 252.18,284.51 250.38,282.71" fill="#5e14a0"/>
<polygon points="272.94,280.08 274.74,281.88 272.94,283.68 271.14,281.88" fill="#5e14a0"/>
<polygon points="262.64,278.64 264.44,280.44 262.64,282.24 260.84,280.44" fill="#5e14a0"/>
<polygon points="268.35,279.29 270.15,281.09 268.35,282.89 266.55,281.09" fill="#5e14a0"/>
<polygon points="265.86,281.92 267.66,283.72 265.86,285.52 264.06,283.72" fill="#5e14a0"/>
<polygon points="278.76,277.42 280.56,279.22 278.76,281.02 276.96,279.22" fill="#5e14a0"/>
<polygon points="268.58,279.89 270.38,281.69 268.58,283.49 266.78,281.69" fill="#5e14a0"/>
<polygon points="282.6,280.73 284.4,282.53 282.6,284.33 280.8,282.53" fill="#5e14a0"/>
<polygon points="228.48,302.14 231.78,302.14 230.13,305.44" fill="#a0522d"/>
<polygon points="235.42,297.44 238.72,297.44 237.07,300.74" fill="#a0522d"/>
<polygon points="236.95,293.01 240.25,293.01 238.6,296.31" fill="#a0522d"/>
<polygon points="234.89,294.85 238.19,294.85 236.54,298.15" fill="#a0522d"/>
<polygon points="237.02,294.64 240.32,294.64 238.67,297.94" fill="#a0522d"/>
<polygon points="237.6,293.7 240.9,293.7 239.25,297" fill="#a0522d"/>
<polygon points="241.49,289 244.79,289 243.14,292.3" fill="#a0522d"/>
<polygon points="237.59,284.6 240.89,284.6 239.24,287.9" fill="#a0522d"/>
<polygon points="247.07,282.53 250.37,282.53 248.72,285.83" fill="#a0522d"/>
<polygon points="252.75,282.25 256.05,282.25 254.4,285.55" fill="#a0522d"/>
<polygon points="255.68,275.95 258.98,275.95 257.33,279.25" fill="#a0522d"/>
<polygon points="251.14,279.9 254.44,279.9 252.79,283.2" fill="#a0522d"/>
<polygon points="244.24,279.59 247.54,279.59 245.89,282.89" fill="#a0522d"/>
<polygon points="254.91,276.44 258.21,276.44 256.56,279.74" fill="#a0522d"/>
<polygon points="252.63,274.84 255.93,274.84 254.28,278.14" fill="#a0522d"/>
<polygon points="279.64,270.56 282.94,270.56 281.29,273.86" fill="#a0522d"/>
<polygon points="262.51,273.12 265.81,273.12 264.16,276.42" fill="#a0522d"/>
<polygon points="265.23,275.59 268.53,275.59 266.88,278.89" fill="#a0522d"/>
<polygon points="277.65,272.08 280.95,272.08 279.3,275.38" fill="#a0522d"/>
<polygon points="274.94,273.79 278.24,273.79 276.59,277.09" fill="#a0522d"/>
<polygon points="277.44,272.76 280.74,272.76 279.09,276.06" fill="#a0522d"/>
<polygon points="272.87,279.22 276.17,279.22 274.52,282.52" fill="#a0522d"/>
<polygon points="290.44,262.48 293.74,262.48 292.09,265.78" fill="#a0522d"/>
<polygon points="282.33,264.22 285.63,264.22 283.98,267.52" fill="#a0522d"/>
<polygon points="277.24,265.97 280.54,265.97 278.89,269.27" fill="#a0522d"/>
<polygon points="239.4,294.36 239.89,295.62 241.25,295.71 240.2,296.57 240.54,297.89 239.4,297.16 238.25,297.89 238.59,296.57 237.54,295.71 238.9,295.62" fill="#2a1fd0"/>
<polygon points="230.17,296.26 230.67,297.52 232.02,297.6 230.97,298.47 231.31,299.78 230.17,299.06 229.02,299.78 229.36,298.47 228.31,297.6 229.67,297.52" fill="#2a1fd0"/>
<polygon points="233.43,291.59 233.93,292.85 235.28,292.94 234.24,293.8 234.57,295.12 233.43,294.39 232.28,295.12 232.62,293.8 231.57,292.94 232.93,292.85" fill="#2a1fd0"/>
<polygon points="240.61,288.65 241.11,289.91 242.46,290 241.42,290.86 241.75,292.18 240.61,291.45 239.46,292.18 239.8,290.86 238.75,290 240.11,289.91" fill="#2a1fd0"/>
<polygon points="239.22,287.49 239.72,288.75 241.08,288.84 240.03,289.7 240.37,291.02 239.22,290.29 238.08,291.02 238.42,289.7 237.37,288.84 238.72,288.75" fill="#2a1fd0"/>
<polygon points="240.74,286.94 241.24,288.2 242.6,288.29 241.55,289.15 241.89,290.47 240.74,289.74 239.6,290.47 239.93,289.15 238.89,288.29 240.24,288.2" fill="#2a1fd0"/>
<polygon points="240.64,287.58 241.14,288.84 242.5,288.92 241.45,289.79 241.79,291.1 240.64,290.38 239.49,291.1 239.83,289.79 238.79,288.92 240.14,288.84" fill="#2a1fd0"/>
<polygon points="241.22,283.5 241.72,284.76 243.07,284.85 242.03,285.71 242.37,287.03 241.22,286.3 240.07,287.03 240.41,285.71 239.37,284.85 240.72,284.76" fill="#2a1fd0"/>
<polygon points="251.52,277.83 252.02,279.09 253.38,279.17 252.33,280.04 252.67,281.36 251.52,280.63 250.37,281.36 250.71,280.04 249.67,279.17 251.02,279.09" fill="#2a1fd0"/>
<polygon points="244.32,281.21 244.82,282.47 246.17,282.56 245.13,283.42 245.47,284.74 244.32,284.01 243.17,284.74 243.51,283.42 242.47,282.56 243.82,282.47" fill="#2a1fd0"/>
<polygon points="263.29,270.32 263.79,271.59 265.15,271.67 264.1,272.54 264.44,273.85 263.29,273.12 262.14,273.85 262.48,272.54 261.44,271.67 262.79,271.59" fill="#2a1fd0"/>
<polygon points="260.5,270.81 261,272.07 262.35,272.15 261.31,273.02 261.65,274.33 260.5,273.61 259.35,274.33 259.69,273.02 258.65,272.15 260,272.07" fill="#2a1fd0"/>
<polygon points="250.58,274.03 251.08,275.29 252.43,275.38 251.38,276.25 251.72,277.56 250.58,276.83 249.43,277.56 249.77,276.25 248.72,275.38 250.08,275.29" fill="#2a1fd0"/>
<polygon points="255,274.54 255.5,275.8 256.86,275.89 255.81,276.76 256.15,278.07 255,277.34 253.86,278.07 254.19,276.76 253.15,275.89 254.5,275.8" fill="#2a1fd0"/>
<polygon points="269.42,263.69 269.92,264.96 271.27,265.04 270.23,265.91 270.56,267.22 269.42,266.49 268.27,267.22 268.61,265.91 267.56,265.04 268.92,264.96" fill="#2a1fd0"/>
<polygon points="273.66,269.19 274.16,270.45 275.52,270.53 274.47,271.4 274.81,272.71 273.66,271.99 272.52,272.71 272.85,271.4 271.81,270.53 273.16,270.45" fill="#2a1fd0"/>
<polygon points="270.92,263.34 271.42,264.6 272.78,264.69 271.73,265.55 272.07,266.87 270.92,266.14 269.78,266.87 270.11,265.55 269.07,264.69 270.42,264.6" fill="#2a1fd0"/>
<polygon points="278.73,266.46 279.23,267.72 280.59,267.81 279.54,268.67 279.88,269.99 278.73,269.26 277.58,269.99 277.92,268.67 276.88,267.81 278.23,267.72" fill="#2a1fd0"/>
<polygon points="269.67,270.9 270.17,272.16 271.52,272.24 270.48,273.11 270.82,274.42 269.67,273.7 268.52,274.42 268.86,273.11 267.82,272.24 269.17,272.16" fill="#2a1fd0"/>
<polygon points="278.49,267.61 278.99,268.88 280.34,268.96 279.3,269.83 279.63,271.14 278.49,270.41 277.34,271.14 277.68,269.83 276.63,268.96 277.99,268.88" fill="#2a1fd0"/>
<polygon points="281.61,268.39 282.11,269.65 283.46,269.74 282.41,270.6 282.75,271.92 281.61,271.19 280.46,271.92 280.8,270.6 279.75,269.74 281.11,269.65" fill="#2a1fd0"/>
<polygon points="276.37,273.37 276.87,274.63 278.22,274.72 277.18,275.58 277.51,276.9 276.37,276.17 275.22,276.9 275.56,275.58 274.51,274.72 275.87,274.63" fill="#2a1fd0"/>
<polygon points="312.46,225.05 312.96,226.32 314.32,226.4 313.27,227.27 313.61,228.58 312.46,227.85 311.32,228.58 311.65,227.27 310.61,226.4 311.96,226.32" fill="#2a1fd0"/>
<polygon points="307.85,233.94 308.35,235.2 309.7,235.28 308.66,236.15 308.99,237.46 307.85,236.74 306.7,237.46 307.04,236.15 305.99,235.28 307.35,235.2" fill="#2a1fd0"/>
<polygon points="301.8,250.59 302.3,251.86 303.66,251.94 302.61,252.81 302.95,254.12 301.8,253.39 300.66,254.12 300.99,252.81 299.95,251.94 301.3,251.86" fill="#2a1fd0"/>
<polygon points="297.98,259.95 298.48,261.21 299.84,261.3 298.79,262.16 299.13,263.48 297.98,262.75 296.84,263.48 297.17,262.16 296.13,261.3 297.48,261.21" fill="#2a1fd0"/>
<polygon points="280.16,259.95 280.66,261.21 282.01,261.3 280.97,262.16 281.31,263.48 280.16,262.75 279.01,263.48 279.35,262.16 278.31,261.3 279.66,261.21" fill="#2a1fd0"/>
<polygon points="275.07,260.75 275.57,262.01 276.92,262.09 275.88,262.96 276.21,264.27 275.07,263.55 273.92,264.27 274.26,262.96 273.21,262.09 274.57,262.01" fill="#2a1fd0"/>
</g>
<rect x="211.10" y="192.90" width="127.30" height="126.90" fill="none" stroke="#3c3c3c" stroke-width="0.85"/>
<path d="M211.10 319.80v2.6M211.10 319.80h-2.6M242.92 319.80v2.6M211.10 288.07h-2.6M274.75 319.80v2.6M211.10 256.35h-2.6M306.57 319.80v2.6M211.10 224.62h-2.6M338.40 319.80v2.6M211.10 192.90h-2.6" stroke="#3c3c3c" stroke-width="0.7" fill="none"/>
<g font-size="7" fill="#1c1c1c">
<text x="211.10" y="329.75" text-anchor="middle">0</text>
<text x="206.30" y="322.15" text-anchor="end">0</text>
<text x="242.92" y="329.75" text-anchor="middle">20</text>
<text x="206.30" y="290.43" text-anchor="end">20</text>
<text x="274.75" y="329.75" text-anchor="middle">40</text>
<text x="206.30" y="258.70" text-anchor="end">40</text>
<text x="306.57" y="329.75" text-anchor="middle">60</text>
<text x="206.30" y="226.97" text-anchor="end">60</text>
<text x="338.40" y="329.75" text-anchor="middle">80</text>
<text x="206.30" y="195.25" text-anchor="end">80</text>
</g>
<text x="274.75" y="339.30" font-size="7" font-weight="bold" text-anchor="middle" fill="#111">AB-AMS (mm)</text>
<text transform="translate(193.20 256.35) rotate(-90)" font-size="7" font-weight="bold" text-anchor="middle" fill="#111">IMERG AMS (mm)</text>
<text x="211.20" y="188.65" font-size="7" font-weight="bold" fill="#111">e)</text>
</g>
<g id="panel-f">
<path d="M242.92 358.40V485.40M211.10 453.65H338.40M274.75 358.40V485.40M211.10 421.90H338.40M306.57 358.40V485.40M211.10 390.15H338.40" stroke="#e9e9e9" stroke-width="0.5" fill="none"/>
<path d="M211.10 485.40L338.40 358.40" stroke="#000" stroke-width="0.95" stroke-dasharray="3 1.5" fill="none"/>
<g stroke="#222" stroke-width="0.27" stroke-linejoin="miter">
<polygon points="221.49,467.93 224.89,467.93 223.19,464.53" fill="#0b1fa8"/>
<polygon points="218.57,467.93 221.97,467.93 220.27,464.53" fill="#0b1fa8"/>
<polygon points="222.87,468.05 226.27,468.05 224.57,464.65" fill="#0b1fa8"/>
<polygon points="220.82,465.39 224.22,465.39 222.52,461.99" fill="#0b1fa8"/>
<polygon points="223.14,465.02 226.54,465.02 224.84,461.62" fill="#0b1fa8"/>
<polygon points="220.91,463.71 224.31,463.71 222.61,460.31" fill="#0b1fa8"/>
<polygon points="225.87,461.75 229.27,461.75 227.57,458.35" fill="#0b1fa8"/>
<polygon points="228.36,458.41 231.76,458.41 230.06,455.01" fill="#0b1fa8"/>
<polygon points="225.45,460.43 228.85,460.43 227.15,457.03" fill="#0b1fa8"/>
<polygon points="228.44,457.71 231.84,457.71 230.14,454.31" fill="#0b1fa8"/>
<polygon points="239.27,451.13 242.67,451.13 240.97,447.73" fill="#0b1fa8"/>
<polygon points="234.17,453.5 237.57,453.5 235.87,450.1" fill="#0b1fa8"/>
<polygon points="232.49,455.53 235.89,455.53 234.19,452.13" fill="#0b1fa8"/>
<polygon points="230.71,449.79 234.11,449.79 232.41,446.39" fill="#0b1fa8"/>
<polygon points="236.19,452.3 239.59,452.3 237.89,448.9" fill="#0b1fa8"/>
<polygon points="238.34,448.72 241.74,448.72 240.04,445.32" fill="#0b1fa8"/>
<polygon points="237.93,448.01 241.33,448.01 239.63,444.61" fill="#0b1fa8"/>
<polygon points="241.31,449.09 244.71,449.09 243.01,445.69" fill="#0b1fa8"/>
<polygon points="238.63,445.46 242.03,445.46 240.33,442.06" fill="#0b1fa8"/>
<polygon points="237.35,446.47 240.75,446.47 239.05,443.07" fill="#0b1fa8"/>
<polygon points="239.06,448.9 242.46,448.9 240.76,445.5" fill="#0b1fa8"/>
<polygon points="239.38,445.86 242.78,445.86 241.08,442.46" fill="#0b1fa8"/>
<polygon points="218.31,468.99 221.71,468.99 220.01,465.59" fill="#0b1fa8"/>
<polygon points="218.79,468.51 222.19,468.51 220.49,465.11" fill="#0b1fa8"/>
<polygon points="219.42,468.04 222.82,468.04 221.12,464.64" fill="#0b1fa8"/>
<circle cx="224.1" cy="459.93" r="1.5" fill="#94a51e"/>
<circle cx="221.25" cy="460.7" r="1.5" fill="#94a51e"/>
<circle cx="234.75" cy="454.24" r="1.5" fill="#94a51e"/>
<circle cx="234.44" cy="456.66" r="1.5" fill="#94a51e"/>
<circle cx="230.52" cy="453.61" r="1.5" fill="#94a51e"/>
<circle cx="231.11" cy="454.64" r="1.5" fill="#94a51e"/>
<circle cx="231.46" cy="450.98" r="1.5" fill="#94a51e"/>
<circle cx="235.65" cy="448.43" r="1.5" fill="#94a51e"/>
<circle cx="240.09" cy="447.45" r="1.5" fill="#94a51e"/>
<circle cx="241.15" cy="443.5" r="1.5" fill="#94a51e"/>
<circle cx="242.31" cy="445.63" r="1.5" fill="#94a51e"/>
<circle cx="243.99" cy="443.79" r="1.5" fill="#94a51e"/>
<circle cx="243.79" cy="436.29" r="1.5" fill="#94a51e"/>
<circle cx="249.03" cy="438.58" r="1.5" fill="#94a51e"/>
<circle cx="246.67" cy="439.7" r="1.5" fill="#94a51e"/>
<circle cx="254.03" cy="436.31" r="1.5" fill="#94a51e"/>
<circle cx="243.5" cy="437.99" r="1.5" fill="#94a51e"/>
<circle cx="262.41" cy="427.46" r="1.5" fill="#94a51e"/>
<circle cx="248.46" cy="434.72" r="1.5" fill="#94a51e"/>
<circle cx="264.01" cy="425.46" r="1.5" fill="#94a51e"/>
<circle cx="260.41" cy="429.02" r="1.5" fill="#94a51e"/>
<circle cx="272.56" cy="421.43" r="1.5" fill="#94a51e"/>
<polygon points="229.75,456.61 231,458.81 229.75,461.01 228.5,458.81" fill="#e01a2a"/>
<polygon points="232.71,453.53 233.96,455.73 232.71,457.93 231.46,455.73" fill="#e01a2a"/>
<polygon points="226.35,451.71 227.6,453.91 226.35,456.11 225.1,453.91" fill="#e01a2a"/>
<polygon points="236.37,448.38 237.62,450.58 236.37,452.78 235.12,450.58" fill="#e01a2a"/>
<polygon points="234.12,446.77 235.37,448.97 234.12,451.17 232.87,448.97" fill="#e01a2a"/>
<polygon points="233.51,450.26 234.76,452.46 233.51,454.66 232.26,452.46" fill="#e01a2a"/>
<polygon points="232.51,444.18 233.76,446.38 232.51,448.58 231.26,446.38" fill="#e01a2a"/>
<polygon points="241.05,441.66 242.3,443.86 241.05,446.06 239.8,443.86" fill="#e01a2a"/>
<polygon points="249.47,438.81 250.72,441.01 249.47,443.21 248.22,441.01" fill="#e01a2a"/>
<polygon points="255.55,435.12 256.8,437.32 255.55,439.52 254.3,437.32" fill="#e01a2a"/>
<polygon points="254.14,432.38 255.39,434.58 254.14,436.78 252.89,434.58" fill="#e01a2a"/>
<polygon points="250.77,433.01 252.02,435.21 250.77,437.41 249.52,435.21" fill="#e01a2a"/>
<polygon points="250.15,432.87 251.4,435.07 250.15,437.27 248.9,435.07" fill="#e01a2a"/>
<polygon points="252.01,435.66 253.26,437.86 252.01,440.06 250.76,437.86" fill="#e01a2a"/>
<polygon points="261.52,428.59 262.77,430.79 261.52,432.99 260.27,430.79" fill="#e01a2a"/>
<polygon points="262.69,430.15 263.94,432.35 262.69,434.55 261.44,432.35" fill="#e01a2a"/>
<polygon points="271.71,416.48 272.96,418.68 271.71,420.88 270.46,418.68" fill="#e01a2a"/>
<polygon points="270.27,420.28 271.52,422.48 270.27,424.68 269.02,422.48" fill="#e01a2a"/>
<polygon points="263.33,422.7 264.58,424.9 263.33,427.1 262.08,424.9" fill="#e01a2a"/>
<polygon points="266.06,418.91 267.31,421.11 266.06,423.31 264.81,421.11" fill="#e01a2a"/>
<polygon points="267.6,419.65 268.85,421.85 267.6,424.05 266.35,421.85" fill="#e01a2a"/>
<polygon points="261.96,425.06 263.21,427.26 261.96,429.46 260.71,427.26" fill="#e01a2a"/>
<circle cx="236.1" cy="454.84" r="1.5" fill="#f2e21a"/>
<circle cx="235.04" cy="452.84" r="1.5" fill="#f2e21a"/>
<circle cx="227.02" cy="455.65" r="1.5" fill="#f2e21a"/>
<circle cx="237.7" cy="452.61" r="1.5" fill="#f2e21a"/>
<circle cx="232.14" cy="452.2" r="1.5" fill="#f2e21a"/>
<circle cx="234.15" cy="449.12" r="1.5" fill="#f2e21a"/>
<circle cx="236.48" cy="446.09" r="1.5" fill="#f2e21a"/>
<circle cx="239.52" cy="441.75" r="1.5" fill="#f2e21a"/>
<circle cx="248.29" cy="438.27" r="1.5" fill="#f2e21a"/>
<circle cx="251.49" cy="435.67" r="1.5" fill="#f2e21a"/>
<circle cx="251.25" cy="437.75" r="1.5" fill="#f2e21a"/>
<circle cx="249.62" cy="435.12" r="1.5" fill="#f2e21a"/>
<circle cx="252.19" cy="433.85" r="1.5" fill="#f2e21a"/>
<circle cx="253.63" cy="432.48" r="1.5" fill="#f2e21a"/>
<circle cx="258.97" cy="427.65" r="1.5" fill="#f2e21a"/>
<circle cx="262.06" cy="425.78" r="1.5" fill="#f2e21a"/>
<circle cx="268.76" cy="420.09" r="1.5" fill="#f2e21a"/>
<circle cx="267.3" cy="424.56" r="1.5" fill="#f2e21a"/>
<circle cx="275.77" cy="415.97" r="1.5" fill="#f2e21a"/>
<circle cx="280.4" cy="412.82" r="1.5" fill="#f2e21a"/>
<circle cx="266.76" cy="423.31" r="1.5" fill="#f2e21a"/>
<circle cx="279.02" cy="413.16" r="1.5" fill="#f2e21a"/>
<rect x="229.88" y="455.34" width="2.8" height="2.8" fill="#1eaaf0"/>
<rect x="229.11" y="454.8" width="2.8" height="2.8" fill="#1eaaf0"/>
<rect x="232.29" y="451.43" width="2.8" height="2.8" fill="#1eaaf0"/>
<rect x="235.03" y="450.53" width="2.8" height="2.8" fill="#1eaaf0"/>
<rect x="227.93" y="450.94" width="2.8" height="2.8" fill="#1eaaf0"/>
<rect x="229.97" y="451.14" width="2.8" height="2.8" fill="#1eaaf0"/>
<rect x="236.78" y="440.08" width="2.8" height="2.8" fill="#1eaaf0"/>
<rect x="236.84" y="443.12" width="2.8" height="2.8" fill="#1eaaf0"/>
<rect x="245.44" y="435.07" width="2.8" height="2.8" fill="#1eaaf0"/>
<rect x="249.29" y="433.32" width="2.8" height="2.8" fill="#1eaaf0"/>
<rect x="250.9" y="435.62" width="2.8" height="2.8" fill="#1eaaf0"/>
<rect x="241.72" y="442.49" width="2.8" height="2.8" fill="#1eaaf0"/>
<rect x="261.1" y="423.7" width="2.8" height="2.8" fill="#1eaaf0"/>
<rect x="241.83" y="437.73" width="2.8" height="2.8" fill="#1eaaf0"/>
<rect x="252.18" y="432.54" width="2.8" height="2.8" fill="#1eaaf0"/>
<rect x="264.6" y="424.73" width="2.8" height="2.8" fill="#1eaaf0"/>
<rect x="262.88" y="419.23" width="2.8" height="2.8" fill="#1eaaf0"/>
<rect x="265.5" y="421.68" width="2.8" height="2.8" fill="#1eaaf0"/>
<rect x="261.43" y="422.44" width="2.8" height="2.8" fill="#1eaaf0"/>
<rect x="272.12" y="416.14" width="2.8" height="2.8" fill="#1eaaf0"/>
<rect x="267.43" y="421.66" width="2.8" height="2.8" fill="#1eaaf0"/>
<rect x="275.23" y="414.83" width="2.8" height="2.8" fill="#1eaaf0"/>
<polygon points="229.23,455.89 231.03,457.69 229.23,459.49 227.43,457.69" fill="#5e14a0"/>
<polygon points="232.08,452.5 233.88,454.3 232.08,456.1 230.28,454.3" fill="#5e14a0"/>
<polygon points="237.37,447.65 239.17,449.45 237.37,451.25 235.57,449.45" fill="#5e14a0"/>
<polygon points="231.24,451.44 233.04,453.24 231.24,455.04 229.44,453.24" fill="#5e14a0"/>
<polygon points="235.07,448.38 236.87,450.18 235.07,451.98 233.27,450.18" fill="#5e14a0"/>
<polygon points="243.35,442.2 245.15,444 243.35,445.8 241.55,444" fill="#5e14a0"/>
<polygon points="239.81,442.61 241.61,444.41 239.81,446.21 238.01,444.41" fill="#5e14a0"/>
<polygon points="243.92,443.65 245.72,445.45 243.92,447.25 242.12,445.45" fill="#5e14a0"/>
<polygon points="243.8,438.7 245.6,440.5 243.8,442.3 242,440.5" fill="#5e14a0"/>
<polygon points="255.38,431.82 257.18,433.62 255.38,435.42 253.58,433.62" fill="#5e14a0"/>
<polygon points="254.43,431.79 256.23,433.59 254.43,435.39 252.63,433.59" fill="#5e14a0"/>
<polygon points="248.98,435.11 250.78,436.91 248.98,438.71 247.18,436.91" fill="#5e14a0"/>
<polygon points="251.56,430.48 253.36,432.28 251.56,434.08 249.76,432.28" fill="#5e14a0"/>
<polygon points="249.34,434.92 251.14,436.72 249.34,438.52 247.54,436.72" fill="#5e14a0"/>
<polygon points="252.18,429.16 253.98,430.96 252.18,432.76 250.38,430.96" fill="#5e14a0"/>
<polygon points="272.94,418.96 274.74,420.76 272.94,422.56 271.14,420.76" fill="#5e14a0"/>
<polygon points="262.64,423 264.44,424.8 262.64,426.6 260.84,424.8" fill="#5e14a0"/>
<polygon points="268.35,421.37 270.15,423.17 268.35,424.97 266.55,423.17" fill="#5e14a0"/>
<polygon points="265.86,420.55 267.66,422.35 265.86,424.15 264.06,422.35" fill="#5e14a0"/>
<polygon points="278.76,410.82 280.56,412.62 278.76,414.42 276.96,412.62" fill="#5e14a0"/>
<polygon points="268.58,418.84 270.38,420.64 268.58,422.44 266.78,420.64" fill="#5e14a0"/>
<polygon points="282.6,410.37 284.4,412.17 282.6,413.97 280.8,412.17" fill="#5e14a0"/>
<polygon points="228.48,454.85 231.78,454.85 230.13,458.15" fill="#a0522d"/>
<polygon points="235.42,450.14 238.72,450.14 237.07,453.44" fill="#a0522d"/>
<polygon points="236.95,446.61 240.25,446.61 238.6,449.91" fill="#a0522d"/>
<polygon points="234.89,447.13 238.19,447.13 236.54,450.43" fill="#a0522d"/>
<polygon points="237.02,450.64 240.32,450.64 238.67,453.94" fill="#a0522d"/>
<polygon points="237.6,445.55 240.9,445.55 239.25,448.85" fill="#a0522d"/>
<polygon points="241.49,442.22 244.79,442.22 243.14,445.52" fill="#a0522d"/>
<polygon points="237.59,439.73 240.89,439.73 239.24,443.03" fill="#a0522d"/>
<polygon points="247.07,433.39 250.37,433.39 248.72,436.69" fill="#a0522d"/>
<polygon points="252.75,433.46 256.05,433.46 254.4,436.76" fill="#a0522d"/>
<polygon points="255.68,430.45 258.98,430.45 257.33,433.75" fill="#a0522d"/>
<polygon points="251.14,430.88 254.44,430.88 252.79,434.18" fill="#a0522d"/>
<polygon points="244.24,432.9 247.54,432.9 245.89,436.2" fill="#a0522d"/>
<polygon points="254.91,427.17 258.21,427.17 256.56,430.47" fill="#a0522d"/>
<polygon points="252.63,428.91 255.93,428.91 254.28,432.21" fill="#a0522d"/>
<polygon points="279.64,410.97 282.94,410.97 281.29,414.27" fill="#a0522d"/>
<polygon points="262.51,420.87 265.81,420.87 264.16,424.17" fill="#a0522d"/>
<polygon points="265.23,422.58 268.53,422.58 266.88,425.88" fill="#a0522d"/>
<polygon points="277.65,411.98 280.95,411.98 279.3,415.28" fill="#a0522d"/>
<polygon points="274.94,413.67 278.24,413.67 276.59,416.97" fill="#a0522d"/>
<polygon points="277.44,412.9 280.74,412.9 279.09,416.2" fill="#a0522d"/>
<polygon points="272.87,416.12 276.17,416.12 274.52,419.42" fill="#a0522d"/>
<polygon points="290.6,400.57 293.9,400.57 292.25,403.87" fill="#a0522d"/>
<polygon points="239.4,448.87 239.89,450.13 241.25,450.21 240.2,451.08 240.54,452.39 239.4,451.67 238.25,452.39 238.59,451.08 237.54,450.21 238.9,450.13" fill="#2a1fd0"/>
<polygon points="230.17,453 230.67,454.26 232.02,454.35 230.97,455.22 231.31,456.53 230.17,455.8 229.02,456.53 229.36,455.22 228.31,454.35 229.67,454.26" fill="#2a1fd0"/>
<polygon points="233.43,449.39 233.93,450.65 235.28,450.74 234.24,451.6 234.57,452.92 233.43,452.19 232.28,452.92 232.62,451.6 231.57,450.74 232.93,450.65" fill="#2a1fd0"/>
<polygon points="240.61,444.56 241.11,445.82 242.46,445.91 241.42,446.77 241.75,448.09 240.61,447.36 239.46,448.09 239.8,446.77 238.75,445.91 240.11,445.82" fill="#2a1fd0"/>
<polygon points="239.22,446.54 239.72,447.8 241.08,447.88 240.03,448.75 240.37,450.06 239.22,449.34 238.08,450.06 238.42,448.75 237.37,447.88 238.72,447.8" fill="#2a1fd0"/>
<polygon points="240.74,441.15 241.24,442.41 242.6,442.49 241.55,443.36 241.89,444.67 240.74,443.95 239.6,444.67 239.93,443.36 238.89,442.49 240.24,442.41" fill="#2a1fd0"/>
<polygon points="240.64,443.27 241.14,444.53 242.5,444.62 241.45,445.48 241.79,446.8 240.64,446.07 239.49,446.8 239.83,445.48 238.79,444.62 240.14,444.53" fill="#2a1fd0"/>
<polygon points="241.22,441.53 241.72,442.8 243.07,442.88 242.03,443.75 242.37,445.06 241.22,444.33 240.07,445.06 240.41,443.75 239.37,442.88 240.72,442.8" fill="#2a1fd0"/>
<polygon points="251.52,431.08 252.02,432.35 253.38,432.43 252.33,433.3 252.67,434.61 251.52,433.88 250.37,434.61 250.71,433.3 249.67,432.43 251.02,432.35" fill="#2a1fd0"/>
<polygon points="244.32,439.54 244.82,440.8 246.17,440.89 245.13,441.75 245.47,443.07 244.32,442.34 243.17,443.07 243.51,441.75 242.47,440.89 243.82,440.8" fill="#2a1fd0"/>
<polygon points="263.29,427.59 263.79,428.85 265.15,428.94 264.1,429.8 264.44,431.12 263.29,430.39 262.14,431.12 262.48,429.8 261.44,428.94 262.79,428.85" fill="#2a1fd0"/>
<polygon points="260.5,424.39 261,425.65 262.35,425.74 261.31,426.6 261.65,427.92 260.5,427.19 259.35,427.92 259.69,426.6 258.65,425.74 260,425.65" fill="#2a1fd0"/>
<polygon points="250.58,432.07 251.08,433.33 252.43,433.41 251.38,434.28 251.72,435.59 250.58,434.87 249.43,435.59 249.77,434.28 248.72,433.41 250.08,433.33" fill="#2a1fd0"/>
<polygon points="255,429.95 255.5,431.21 256.86,431.29 255.81,432.16 256.15,433.47 255,432.75 253.86,433.47 254.19,432.16 253.15,431.29 254.5,431.21" fill="#2a1fd0"/>
<polygon points="269.42,420.25 269.92,421.52 271.27,421.6 270.23,422.47 270.56,423.78 269.42,423.05 268.27,423.78 268.61,422.47 267.56,421.6 268.92,421.52" fill="#2a1fd0"/>
<polygon points="273.66,417.02 274.16,418.28 275.52,418.36 274.47,419.23 274.81,420.54 273.66,419.82 272.52,420.54 272.85,419.23 271.81,418.36 273.16,418.28" fill="#2a1fd0"/>
<polygon points="270.92,416.2 271.42,417.46 272.78,417.55 271.73,418.41 272.07,419.73 270.92,419 269.78,419.73 270.11,418.41 269.07,417.55 270.42,417.46" fill="#2a1fd0"/>
<polygon points="278.73,411 279.23,412.27 280.59,412.35 279.54,413.22 279.88,414.53 278.73,413.8 277.58,414.53 277.92,413.22 276.88,412.35 278.23,412.27" fill="#2a1fd0"/>
<polygon points="269.67,417.23 270.17,418.5 271.52,418.58 270.48,419.45 270.82,420.76 269.67,420.03 268.52,420.76 268.86,419.45 267.82,418.58 269.17,418.5" fill="#2a1fd0"/>
<polygon points="278.49,410.2 278.99,411.46 280.34,411.55 279.3,412.41 279.63,413.73 278.49,413 277.34,413.73 277.68,412.41 276.63,411.55 277.99,411.46" fill="#2a1fd0"/>
<polygon points="281.61,410.17 282.11,411.43 283.46,411.51 282.41,412.38 282.75,413.69 281.61,412.97 280.46,413.69 280.8,412.38 279.75,411.51 281.11,411.43" fill="#2a1fd0"/>
<polygon points="276.37,412.72 276.87,413.99 278.22,414.07 277.18,414.94 277.51,416.25 276.37,415.52 275.22,416.25 275.56,414.94 274.51,414.07 275.87,413.99" fill="#2a1fd0"/>
<polygon points="312.46,381.37 312.96,382.64 314.32,382.72 313.27,383.59 313.61,384.9 312.46,384.17 311.32,384.9 311.65,383.59 310.61,382.72 311.96,382.64" fill="#2a1fd0"/>
<polygon points="307.85,384.71 308.35,385.97 309.7,386.05 308.66,386.92 308.99,388.24 307.85,387.51 306.7,388.24 307.04,386.92 305.99,386.05 307.35,385.97" fill="#2a1fd0"/>
<polygon points="301.8,391.38 302.3,392.64 303.66,392.72 302.61,393.59 302.95,394.9 301.8,394.18 300.66,394.9 300.99,393.59 299.95,392.72 301.3,392.64" fill="#2a1fd0"/>
<polygon points="297.98,392.64 298.48,393.91 299.84,393.99 298.79,394.86 299.13,396.17 297.98,395.44 296.84,396.17 297.17,394.86 296.13,393.99 297.48,393.91" fill="#2a1fd0"/>
</g>
<rect x="211.10" y="358.40" width="127.30" height="127.00" fill="none" stroke="#3c3c3c" stroke-width="0.85"/>
<path d="M211.10 485.40v2.6M211.10 485.40h-2.6M242.92 485.40v2.6M211.10 453.65h-2.6M274.75 485.40v2.6M211.10 421.90h-2.6M306.57 485.40v2.6M211.10 390.15h-2.6M338.40 485.40v2.6M211.10 358.40h-2.6" stroke="#3c3c3c" stroke-width="0.7" fill="none"/>
<g font-size="7" fill="#1c1c1c">
<text x="211.10" y="495.35" text-anchor="middle">0</text>
<text x="206.30" y="487.75" text-anchor="end">0</text>
<text x="242.92" y="495.35" text-anchor="middle">20</text>
<text x="206.30" y="456.00" text-anchor="end">20</text>
<text x="274.75" y="495.35" text-anchor="middle">40</text>
<text x="206.30" y="424.25" text-anchor="end">40</text>
<text x="306.57" y="495.35" text-anchor="middle">60</text>
<text x="206.30" y="392.50" text-anchor="end">60</text>
<text x="338.40" y="495.35" text-anchor="middle">80</text>
<text x="206.30" y="360.75" text-anchor="end">80</text>
</g>
<text x="274.75" y="504.90" font-size="7" font-weight="bold" text-anchor="middle" fill="#111">AB-AMS (mm)</text>
<text transform="translate(193.20 421.90) rotate(-90)" font-size="7" font-weight="bold" text-anchor="middle" fill="#111">AA-AMS (mm)</text>
<text x="211.20" y="354.15" font-size="7" font-weight="bold" fill="#111">f)</text>
</g>
<text x="94.3" y="10.4" font-size="8.46" font-weight="bold" text-anchor="middle" fill="#111">FBR 2: 15.95° E, 46.95° N</text>
<text x="274.8" y="10.4" font-size="8.46" font-weight="bold" text-anchor="middle" fill="#111">WGEW 1: -110.05° E, 31.75° N</text>
<g id="legend">
<rect x="2.5" y="512.0" width="170.1" height="32.3" rx="1.4" fill="#fff" stroke="#d0d0d0" stroke-width="0.7"/>
<g stroke="#222" stroke-width="0.27">
<polygon points="10.14,520.16 14.05,520.16 12.1,516.25" fill="#0b1fa8"/>
<circle cx="12.1" cy="528.6" r="1.72" fill="#94a51e"/>
<polygon points="12.1,536.07 13.54,538.6 12.1,541.13 10.66,538.6" fill="#e01a2a"/>
<circle cx="70.3" cy="518.4" r="1.72" fill="#f2e21a"/>
<rect x="68.69" y="526.99" width="3.22" height="3.22" fill="#1eaaf0"/>
<polygon points="70.3,536.53 72.37,538.6 70.3,540.67 68.23,538.6" fill="#5e14a0"/>
<polygon points="126.7,516.69 130.5,516.69 128.6,520.49" fill="#a0522d"/>
<polygon points="128.6,526.36 129.17,527.81 130.73,527.91 129.53,528.9 129.92,530.41 128.6,529.58 127.28,530.41 127.67,528.9 126.47,527.91 128.03,527.81" fill="#2a1fd0"/>
</g>
<g font-size="7" fill="#1c1c1c">
<text x="24.6" y="520.5">0.5 hrs</text>
<text x="24.6" y="530.7">1.0 hrs</text>
<text x="24.6" y="540.7">1.5 hrs</text>
<text x="82.8" y="520.5">2.0 hrs</text>
<text x="82.8" y="530.7">2.5 hrs</text>
<text x="82.8" y="540.7">3.0 hrs</text>
<text x="141.0" y="520.5">6.0 hrs</text>
<text x="141.0" y="530.7">24.0 hrs</text>
</g></g>
</svg>
</body></html>
